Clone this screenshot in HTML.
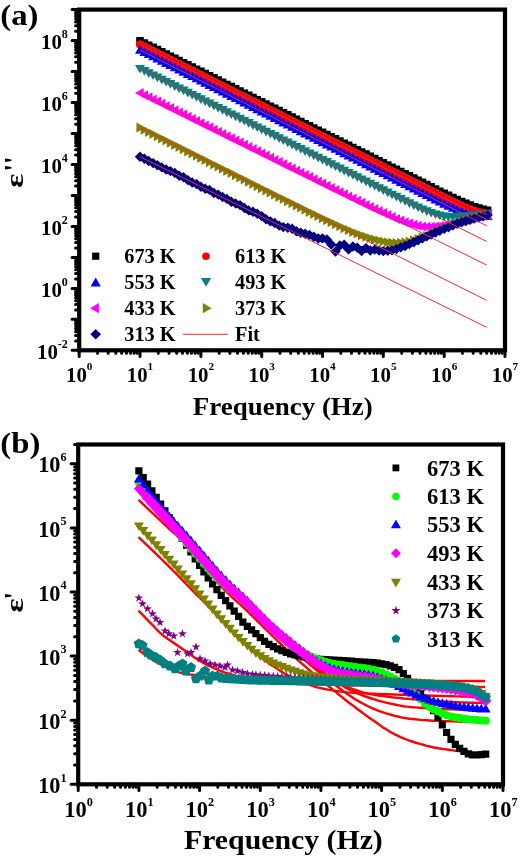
<!DOCTYPE html>
<html lang="en"><head><meta charset="utf-8"><title>Dielectric spectra</title>
<style>html,body{margin:0;padding:0;background:#fff}svg{display:block}</style></head>
<body>
<svg width="520" height="857" viewBox="0 0 520 857" font-family="'Liberation Serif', serif" font-weight="bold" fill="#000">
<rect width="520" height="857" fill="#fff"/>
<rect x="79.2" y="9.6" width="425.8" height="340.7" fill="#fff" stroke="#000" stroke-width="4.2"/>
<path d="M79.2 350.3v6.1M140 350.3v6.1M200.9 350.3v6.1M261.7 350.3v6.1M322.5 350.3v6.1M383.3 350.3v6.1M444.2 350.3v6.1M505 350.3v6.1M79.2 350.3h-7.1M79.2 319.3h-7.1M79.2 288.4h-7.1M79.2 257.4h-7.1M79.2 226.4h-7.1M79.2 195.4h-7.1M79.2 164.5h-7.1M79.2 133.5h-7.1M79.2 102.5h-7.1M79.2 71.5h-7.1M79.2 40.6h-7.1M79.2 9.6h-7.1" stroke="#000" stroke-width="3" stroke-linecap="round" fill="none"/>
<path d="M97.5 350.3v3M108.2 350.3v3M115.8 350.3v3M121.7 350.3v3M126.5 350.3v3M130.6 350.3v3M134.1 350.3v3M137.2 350.3v3M158.3 350.3v3M169.1 350.3v3M176.7 350.3v3M182.5 350.3v3M187.4 350.3v3M191.4 350.3v3M195 350.3v3M198.1 350.3v3M219.2 350.3v3M229.9 350.3v3M237.5 350.3v3M243.4 350.3v3M248.2 350.3v3M252.3 350.3v3M255.8 350.3v3M258.9 350.3v3M280 350.3v3M290.7 350.3v3M298.3 350.3v3M304.2 350.3v3M309 350.3v3M313.1 350.3v3M316.6 350.3v3M319.7 350.3v3M340.8 350.3v3M351.5 350.3v3M359.1 350.3v3M365 350.3v3M369.8 350.3v3M373.9 350.3v3M377.4 350.3v3M380.6 350.3v3M401.7 350.3v3M412.4 350.3v3M420 350.3v3M425.9 350.3v3M430.7 350.3v3M434.7 350.3v3M438.3 350.3v3M441.4 350.3v3M462.5 350.3v3M473.2 350.3v3M480.8 350.3v3M486.7 350.3v3M491.5 350.3v3M495.6 350.3v3M499.1 350.3v3M502.2 350.3v3M79.2 341h-3.6M79.2 335.5h-3.6M79.2 331.7h-3.6M79.2 328.7h-3.6M79.2 326.2h-3.6M79.2 324.1h-3.6M79.2 322.3h-3.6M79.2 320.7h-3.6M79.2 310h-3.6M79.2 304.5h-3.6M79.2 300.7h-3.6M79.2 297.7h-3.6M79.2 295.2h-3.6M79.2 293.2h-3.6M79.2 291.4h-3.6M79.2 289.8h-3.6M79.2 279h-3.6M79.2 273.6h-3.6M79.2 269.7h-3.6M79.2 266.7h-3.6M79.2 264.3h-3.6M79.2 262.2h-3.6M79.2 260.4h-3.6M79.2 258.8h-3.6M79.2 248.1h-3.6M79.2 242.6h-3.6M79.2 238.7h-3.6M79.2 235.7h-3.6M79.2 233.3h-3.6M79.2 231.2h-3.6M79.2 229.4h-3.6M79.2 227.8h-3.6M79.2 217.1h-3.6M79.2 211.6h-3.6M79.2 207.8h-3.6M79.2 204.8h-3.6M79.2 202.3h-3.6M79.2 200.2h-3.6M79.2 198.4h-3.6M79.2 196.9h-3.6M79.2 186.1h-3.6M79.2 180.7h-3.6M79.2 176.8h-3.6M79.2 173.8h-3.6M79.2 171.3h-3.6M79.2 169.3h-3.6M79.2 167.5h-3.6M79.2 165.9h-3.6M79.2 155.1h-3.6M79.2 149.7h-3.6M79.2 145.8h-3.6M79.2 142.8h-3.6M79.2 140.4h-3.6M79.2 138.3h-3.6M79.2 136.5h-3.6M79.2 134.9h-3.6M79.2 124.2h-3.6M79.2 118.7h-3.6M79.2 114.8h-3.6M79.2 111.8h-3.6M79.2 109.4h-3.6M79.2 107.3h-3.6M79.2 105.5h-3.6M79.2 103.9h-3.6M79.2 93.2h-3.6M79.2 87.7h-3.6M79.2 83.9h-3.6M79.2 80.9h-3.6M79.2 78.4h-3.6M79.2 76.3h-3.6M79.2 74.5h-3.6M79.2 73h-3.6M79.2 62.2h-3.6M79.2 56.8h-3.6M79.2 52.9h-3.6M79.2 49.9h-3.6M79.2 47.4h-3.6M79.2 45.4h-3.6M79.2 43.6h-3.6M79.2 42h-3.6M79.2 31.2h-3.6M79.2 25.8h-3.6M79.2 21.9h-3.6M79.2 18.9h-3.6M79.2 16.5h-3.6M79.2 14.4h-3.6M79.2 12.6h-3.6M79.2 11h-3.6" stroke="#000" stroke-width="3" stroke-linecap="round" fill="none"/>
<path d="M136.2 37.1h7.6v7.6h-7.6zM140.6 39.3h7.6v7.6h-7.6zM144.9 41.5h7.6v7.6h-7.6zM149.3 43.6h7.6v7.6h-7.6zM153.6 45.8h7.6v7.6h-7.6zM158 48h7.6v7.6h-7.6zM162.3 50.2h7.6v7.6h-7.6zM166.6 52.4h7.6v7.6h-7.6zM171 54.5h7.6v7.6h-7.6zM175.3 56.7h7.6v7.6h-7.6zM179.7 58.9h7.6v7.6h-7.6zM184 61.1h7.6v7.6h-7.6zM188.4 63.2h7.6v7.6h-7.6zM192.7 65.4h7.6v7.6h-7.6zM197.1 67.6h7.6v7.6h-7.6zM201.4 69.8h7.6v7.6h-7.6zM205.7 72h7.6v7.6h-7.6zM210.1 74.1h7.6v7.6h-7.6zM214.4 76.3h7.6v7.6h-7.6zM218.8 78.5h7.6v7.6h-7.6zM223.1 80.7h7.6v7.6h-7.6zM227.5 82.8h7.6v7.6h-7.6zM231.8 85h7.6v7.6h-7.6zM236.2 87.2h7.6v7.6h-7.6zM240.5 89.4h7.6v7.6h-7.6zM244.9 91.6h7.6v7.6h-7.6zM249.2 93.7h7.6v7.6h-7.6zM253.5 95.9h7.6v7.6h-7.6zM257.9 98.1h7.6v7.6h-7.6zM262.2 100.3h7.6v7.6h-7.6zM266.6 102.4h7.6v7.6h-7.6zM270.9 104.6h7.6v7.6h-7.6zM275.3 106.8h7.6v7.6h-7.6zM279.6 109h7.6v7.6h-7.6zM284 111.1h7.6v7.6h-7.6zM288.3 113.3h7.6v7.6h-7.6zM292.6 115.5h7.6v7.6h-7.6zM297 117.7h7.6v7.6h-7.6zM301.3 119.9h7.6v7.6h-7.6zM305.7 122h7.6v7.6h-7.6zM310 124.2h7.6v7.6h-7.6zM314.4 126.4h7.6v7.6h-7.6zM318.7 128.6h7.6v7.6h-7.6zM323.1 130.7h7.6v7.6h-7.6zM327.4 132.9h7.6v7.6h-7.6zM331.7 135.1h7.6v7.6h-7.6zM336.1 137.3h7.6v7.6h-7.6zM340.4 139.5h7.6v7.6h-7.6zM344.8 141.6h7.6v7.6h-7.6zM349.1 143.8h7.6v7.6h-7.6zM353.5 146h7.6v7.6h-7.6zM357.8 148.2h7.6v7.6h-7.6zM362.2 150.3h7.6v7.6h-7.6zM366.5 152.5h7.6v7.6h-7.6zM370.9 154.7h7.6v7.6h-7.6zM375.2 156.9h7.6v7.6h-7.6zM379.5 159.1h7.6v7.6h-7.6zM383.9 161.2h7.6v7.6h-7.6zM388.2 163.4h7.6v7.6h-7.6zM392.6 165.6h7.6v7.6h-7.6zM396.9 167.8h7.6v7.6h-7.6zM401.3 169.9h7.6v7.6h-7.6zM405.6 172.1h7.6v7.6h-7.6zM410 174.3h7.6v7.6h-7.6zM414.3 176.5h7.6v7.6h-7.6zM418.6 178.6h7.6v7.6h-7.6zM423 180.8h7.6v7.6h-7.6zM427.3 183h7.6v7.6h-7.6zM431.7 185.2h7.6v7.6h-7.6zM436 187.4h7.6v7.6h-7.6zM440.4 189.5h7.6v7.6h-7.6zM444.7 191.6h7.6v7.6h-7.6zM449.1 193.7h7.6v7.6h-7.6zM453.4 195.7h7.6v7.6h-7.6zM457.8 197.7h7.6v7.6h-7.6zM462.1 199.6h7.6v7.6h-7.6zM466.4 201.3h7.6v7.6h-7.6zM470.8 202.9h7.6v7.6h-7.6zM475.1 204.3h7.6v7.6h-7.6zM479.5 205.6h7.6v7.6h-7.6zM483.8 206.6h7.6v7.6h-7.6z" fill="#000000"/>
<path d="M135.9 44.5a4.1 4.1 0 1 0 8.2 0a4.1 4.1 0 1 0 -8.2 0zM140.3 46.7a4.1 4.1 0 1 0 8.2 0a4.1 4.1 0 1 0 -8.2 0zM144.6 48.9a4.1 4.1 0 1 0 8.2 0a4.1 4.1 0 1 0 -8.2 0zM149 51.1a4.1 4.1 0 1 0 8.2 0a4.1 4.1 0 1 0 -8.2 0zM153.3 53.3a4.1 4.1 0 1 0 8.2 0a4.1 4.1 0 1 0 -8.2 0zM157.7 55.5a4.1 4.1 0 1 0 8.2 0a4.1 4.1 0 1 0 -8.2 0zM162 57.7a4.1 4.1 0 1 0 8.2 0a4.1 4.1 0 1 0 -8.2 0zM166.3 59.9a4.1 4.1 0 1 0 8.2 0a4.1 4.1 0 1 0 -8.2 0zM170.7 62.1a4.1 4.1 0 1 0 8.2 0a4.1 4.1 0 1 0 -8.2 0zM175 64.3a4.1 4.1 0 1 0 8.2 0a4.1 4.1 0 1 0 -8.2 0zM179.4 66.5a4.1 4.1 0 1 0 8.2 0a4.1 4.1 0 1 0 -8.2 0zM183.7 68.6a4.1 4.1 0 1 0 8.2 0a4.1 4.1 0 1 0 -8.2 0zM188.1 70.8a4.1 4.1 0 1 0 8.2 0a4.1 4.1 0 1 0 -8.2 0zM192.4 73a4.1 4.1 0 1 0 8.2 0a4.1 4.1 0 1 0 -8.2 0zM196.8 75.2a4.1 4.1 0 1 0 8.2 0a4.1 4.1 0 1 0 -8.2 0zM201.1 77.4a4.1 4.1 0 1 0 8.2 0a4.1 4.1 0 1 0 -8.2 0zM205.4 79.6a4.1 4.1 0 1 0 8.2 0a4.1 4.1 0 1 0 -8.2 0zM209.8 81.8a4.1 4.1 0 1 0 8.2 0a4.1 4.1 0 1 0 -8.2 0zM214.1 84a4.1 4.1 0 1 0 8.2 0a4.1 4.1 0 1 0 -8.2 0zM218.5 86.2a4.1 4.1 0 1 0 8.2 0a4.1 4.1 0 1 0 -8.2 0zM222.8 88.4a4.1 4.1 0 1 0 8.2 0a4.1 4.1 0 1 0 -8.2 0zM227.2 90.6a4.1 4.1 0 1 0 8.2 0a4.1 4.1 0 1 0 -8.2 0zM231.5 92.8a4.1 4.1 0 1 0 8.2 0a4.1 4.1 0 1 0 -8.2 0zM235.9 95a4.1 4.1 0 1 0 8.2 0a4.1 4.1 0 1 0 -8.2 0zM240.2 97.2a4.1 4.1 0 1 0 8.2 0a4.1 4.1 0 1 0 -8.2 0zM244.6 99.4a4.1 4.1 0 1 0 8.2 0a4.1 4.1 0 1 0 -8.2 0zM248.9 101.6a4.1 4.1 0 1 0 8.2 0a4.1 4.1 0 1 0 -8.2 0zM253.2 103.7a4.1 4.1 0 1 0 8.2 0a4.1 4.1 0 1 0 -8.2 0zM257.6 105.9a4.1 4.1 0 1 0 8.2 0a4.1 4.1 0 1 0 -8.2 0zM261.9 108.1a4.1 4.1 0 1 0 8.2 0a4.1 4.1 0 1 0 -8.2 0zM266.3 110.3a4.1 4.1 0 1 0 8.2 0a4.1 4.1 0 1 0 -8.2 0zM270.6 112.5a4.1 4.1 0 1 0 8.2 0a4.1 4.1 0 1 0 -8.2 0zM275 114.7a4.1 4.1 0 1 0 8.2 0a4.1 4.1 0 1 0 -8.2 0zM279.3 116.9a4.1 4.1 0 1 0 8.2 0a4.1 4.1 0 1 0 -8.2 0zM283.7 119.1a4.1 4.1 0 1 0 8.2 0a4.1 4.1 0 1 0 -8.2 0zM288 121.3a4.1 4.1 0 1 0 8.2 0a4.1 4.1 0 1 0 -8.2 0zM292.3 123.5a4.1 4.1 0 1 0 8.2 0a4.1 4.1 0 1 0 -8.2 0zM296.7 125.7a4.1 4.1 0 1 0 8.2 0a4.1 4.1 0 1 0 -8.2 0zM301 127.9a4.1 4.1 0 1 0 8.2 0a4.1 4.1 0 1 0 -8.2 0zM305.4 130.1a4.1 4.1 0 1 0 8.2 0a4.1 4.1 0 1 0 -8.2 0zM309.7 132.3a4.1 4.1 0 1 0 8.2 0a4.1 4.1 0 1 0 -8.2 0zM314.1 134.5a4.1 4.1 0 1 0 8.2 0a4.1 4.1 0 1 0 -8.2 0zM318.4 136.7a4.1 4.1 0 1 0 8.2 0a4.1 4.1 0 1 0 -8.2 0zM322.8 138.8a4.1 4.1 0 1 0 8.2 0a4.1 4.1 0 1 0 -8.2 0zM327.1 141a4.1 4.1 0 1 0 8.2 0a4.1 4.1 0 1 0 -8.2 0zM331.4 143.2a4.1 4.1 0 1 0 8.2 0a4.1 4.1 0 1 0 -8.2 0zM335.8 145.4a4.1 4.1 0 1 0 8.2 0a4.1 4.1 0 1 0 -8.2 0zM340.1 147.6a4.1 4.1 0 1 0 8.2 0a4.1 4.1 0 1 0 -8.2 0zM344.5 149.8a4.1 4.1 0 1 0 8.2 0a4.1 4.1 0 1 0 -8.2 0zM348.8 152a4.1 4.1 0 1 0 8.2 0a4.1 4.1 0 1 0 -8.2 0zM353.2 154.2a4.1 4.1 0 1 0 8.2 0a4.1 4.1 0 1 0 -8.2 0zM357.5 156.4a4.1 4.1 0 1 0 8.2 0a4.1 4.1 0 1 0 -8.2 0zM361.9 158.6a4.1 4.1 0 1 0 8.2 0a4.1 4.1 0 1 0 -8.2 0zM366.2 160.8a4.1 4.1 0 1 0 8.2 0a4.1 4.1 0 1 0 -8.2 0zM370.6 163a4.1 4.1 0 1 0 8.2 0a4.1 4.1 0 1 0 -8.2 0zM374.9 165.2a4.1 4.1 0 1 0 8.2 0a4.1 4.1 0 1 0 -8.2 0zM379.2 167.4a4.1 4.1 0 1 0 8.2 0a4.1 4.1 0 1 0 -8.2 0zM383.6 169.6a4.1 4.1 0 1 0 8.2 0a4.1 4.1 0 1 0 -8.2 0zM387.9 171.8a4.1 4.1 0 1 0 8.2 0a4.1 4.1 0 1 0 -8.2 0zM392.3 173.9a4.1 4.1 0 1 0 8.2 0a4.1 4.1 0 1 0 -8.2 0zM396.6 176.1a4.1 4.1 0 1 0 8.2 0a4.1 4.1 0 1 0 -8.2 0zM401 178.3a4.1 4.1 0 1 0 8.2 0a4.1 4.1 0 1 0 -8.2 0zM405.3 180.5a4.1 4.1 0 1 0 8.2 0a4.1 4.1 0 1 0 -8.2 0zM409.7 182.7a4.1 4.1 0 1 0 8.2 0a4.1 4.1 0 1 0 -8.2 0zM414 184.9a4.1 4.1 0 1 0 8.2 0a4.1 4.1 0 1 0 -8.2 0zM418.3 187.1a4.1 4.1 0 1 0 8.2 0a4.1 4.1 0 1 0 -8.2 0zM422.7 189.3a4.1 4.1 0 1 0 8.2 0a4.1 4.1 0 1 0 -8.2 0zM427 191.5a4.1 4.1 0 1 0 8.2 0a4.1 4.1 0 1 0 -8.2 0zM431.4 193.7a4.1 4.1 0 1 0 8.2 0a4.1 4.1 0 1 0 -8.2 0zM435.7 195.9a4.1 4.1 0 1 0 8.2 0a4.1 4.1 0 1 0 -8.2 0zM440.1 198a4.1 4.1 0 1 0 8.2 0a4.1 4.1 0 1 0 -8.2 0zM444.4 200.1a4.1 4.1 0 1 0 8.2 0a4.1 4.1 0 1 0 -8.2 0zM448.8 202.2a4.1 4.1 0 1 0 8.2 0a4.1 4.1 0 1 0 -8.2 0zM453.1 204.2a4.1 4.1 0 1 0 8.2 0a4.1 4.1 0 1 0 -8.2 0zM457.5 206.1a4.1 4.1 0 1 0 8.2 0a4.1 4.1 0 1 0 -8.2 0zM461.8 207.8a4.1 4.1 0 1 0 8.2 0a4.1 4.1 0 1 0 -8.2 0zM466.1 209.4a4.1 4.1 0 1 0 8.2 0a4.1 4.1 0 1 0 -8.2 0zM470.5 210.8a4.1 4.1 0 1 0 8.2 0a4.1 4.1 0 1 0 -8.2 0zM474.8 212a4.1 4.1 0 1 0 8.2 0a4.1 4.1 0 1 0 -8.2 0zM479.2 213a4.1 4.1 0 1 0 8.2 0a4.1 4.1 0 1 0 -8.2 0zM483.5 213.7a4.1 4.1 0 1 0 8.2 0a4.1 4.1 0 1 0 -8.2 0z" fill="#ff0000"/>
<path d="M140 45L145 53.7L135 53.7zM144.4 47.2L149.4 55.9L139.4 55.9zM148.7 49.4L153.7 58.1L143.7 58.1zM153.1 51.6L158.1 60.3L148.1 60.3zM157.4 53.8L162.4 62.5L152.4 62.5zM161.8 56L166.8 64.7L156.8 64.7zM166.1 58.2L171.1 66.9L161.1 66.9zM170.4 60.4L175.4 69.1L165.4 69.1zM174.8 62.6L179.8 71.3L169.8 71.3zM179.1 64.8L184.1 73.5L174.1 73.5zM183.5 67L188.5 75.7L178.5 75.7zM187.8 69.2L192.8 77.9L182.8 77.9zM192.2 71.4L197.2 80.1L187.2 80.1zM196.5 73.6L201.5 82.3L191.5 82.3zM200.9 75.8L205.9 84.5L195.9 84.5zM205.2 78L210.2 86.7L200.2 86.7zM209.5 80.3L214.5 88.9L204.5 88.9zM213.9 82.5L218.9 91.1L208.9 91.1zM218.2 84.7L223.2 93.3L213.2 93.3zM222.6 86.9L227.6 95.5L217.6 95.5zM226.9 89.1L231.9 97.7L221.9 97.7zM231.3 91.3L236.3 99.9L226.3 99.9zM235.6 93.5L240.6 102.1L230.6 102.1zM240 95.7L245 104.3L235 104.3zM244.3 97.9L249.3 106.5L239.3 106.5zM248.7 100.1L253.7 108.7L243.7 108.7zM253 102.3L258 111L248 111zM257.3 104.5L262.3 113.2L252.3 113.2zM261.7 106.7L266.7 115.4L256.7 115.4zM266 108.9L271 117.6L261 117.6zM270.4 111.1L275.4 119.8L265.4 119.8zM274.7 113.3L279.7 122L269.7 122zM279.1 115.5L284.1 124.2L274.1 124.2zM283.4 117.7L288.4 126.4L278.4 126.4zM287.8 119.9L292.8 128.6L282.8 128.6zM292.1 122.1L297.1 130.8L287.1 130.8zM296.4 124.3L301.4 133L291.4 133zM300.8 126.5L305.8 135.2L295.8 135.2zM305.1 128.7L310.1 137.4L300.1 137.4zM309.5 130.9L314.5 139.6L304.5 139.6zM313.8 133.1L318.8 141.8L308.8 141.8zM318.2 135.3L323.2 144L313.2 144zM322.5 137.6L327.5 146.2L317.5 146.2zM326.9 139.8L331.9 148.4L321.9 148.4zM331.2 142L336.2 150.6L326.2 150.6zM335.5 144.2L340.5 152.8L330.5 152.8zM339.9 146.4L344.9 155L334.9 155zM344.2 148.6L349.2 157.2L339.2 157.2zM348.6 150.8L353.6 159.4L343.6 159.4zM352.9 153L357.9 161.6L347.9 161.6zM357.3 155.2L362.3 163.8L352.3 163.8zM361.6 157.4L366.6 166L356.6 166zM366 159.6L371 168.2L361 168.2zM370.3 161.8L375.3 170.5L365.3 170.5zM374.7 164L379.7 172.7L369.7 172.7zM379 166.2L384 174.9L374 174.9zM383.3 168.4L388.3 177.1L378.3 177.1zM387.7 170.6L392.7 179.3L382.7 179.3zM392 172.8L397 181.5L387 181.5zM396.4 175L401.4 183.7L391.4 183.7zM400.7 177.2L405.7 185.9L395.7 185.9zM405.1 179.4L410.1 188.1L400.1 188.1zM409.4 181.6L414.4 190.3L404.4 190.3zM413.8 183.8L418.8 192.5L408.8 192.5zM418.1 186L423.1 194.7L413.1 194.7zM422.4 188.2L427.4 196.9L417.4 196.9zM426.8 190.4L431.8 199.1L421.8 199.1zM431.1 192.6L436.1 201.3L426.1 201.3zM435.5 194.8L440.5 203.5L430.5 203.5zM439.8 197L444.8 205.6L434.8 205.6zM444.2 199.1L449.2 207.7L439.2 207.7zM448.5 201.1L453.5 209.8L443.5 209.8zM452.9 203L457.9 211.7L447.9 211.7zM457.2 204.9L462.2 213.5L452.2 213.5zM461.6 206.5L466.6 215.2L456.6 215.2zM465.9 208L470.9 216.6L460.9 216.6zM470.2 209.2L475.2 217.9L465.2 217.9zM474.6 210.1L479.6 218.8L469.6 218.8zM478.9 210.8L483.9 219.5L473.9 219.5zM483.3 211.2L488.3 219.8L478.3 219.8zM487.6 211.4L492.6 220L482.6 220z" fill="#0000ff"/>
<path d="M140 73.5L145 64.9L135 64.9zM144.4 75.7L149.4 67L139.4 67zM148.7 77.9L153.7 69.2L143.7 69.2zM153.1 80L158.1 71.4L148.1 71.4zM157.4 82.2L162.4 73.6L152.4 73.6zM161.8 84.4L166.8 75.7L156.8 75.7zM166.1 86.5L171.1 77.9L161.1 77.9zM170.4 88.7L175.4 80.1L165.4 80.1zM174.8 90.9L179.8 82.2L169.8 82.2zM179.1 93.1L184.1 84.4L174.1 84.4zM183.5 95.2L188.5 86.6L178.5 86.6zM187.8 97.4L192.8 88.7L182.8 88.7zM192.2 99.6L197.2 90.9L187.2 90.9zM196.5 101.7L201.5 93.1L191.5 93.1zM200.9 103.9L205.9 95.2L195.9 95.2zM205.2 106.1L210.2 97.4L200.2 97.4zM209.5 108.2L214.5 99.6L204.5 99.6zM213.9 110.4L218.9 101.7L208.9 101.7zM218.2 112.6L223.2 103.9L213.2 103.9zM222.6 114.7L227.6 106.1L217.6 106.1zM226.9 116.9L231.9 108.3L221.9 108.3zM231.3 119.1L236.3 110.4L226.3 110.4zM235.6 121.2L240.6 112.6L230.6 112.6zM240 123.4L245 114.8L235 114.8zM244.3 125.6L249.3 116.9L239.3 116.9zM248.7 127.8L253.7 119.1L243.7 119.1zM253 129.9L258 121.3L248 121.3zM257.3 132.1L262.3 123.4L252.3 123.4zM261.7 134.3L266.7 125.6L256.7 125.6zM266 136.4L271 127.8L261 127.8zM270.4 138.6L275.4 129.9L265.4 129.9zM274.7 140.8L279.7 132.1L269.7 132.1zM279.1 142.9L284.1 134.3L274.1 134.3zM283.4 145.1L288.4 136.4L278.4 136.4zM287.8 147.3L292.8 138.6L282.8 138.6zM292.1 149.4L297.1 140.8L287.1 140.8zM296.4 151.6L301.4 142.9L291.4 142.9zM300.8 153.8L305.8 145.1L295.8 145.1zM305.1 155.9L310.1 147.3L300.1 147.3zM309.5 158.1L314.5 149.5L304.5 149.5zM313.8 160.3L318.8 151.6L308.8 151.6zM318.2 162.5L323.2 153.8L313.2 153.8zM322.5 164.6L327.5 156L317.5 156zM326.9 166.8L331.9 158.1L321.9 158.1zM331.2 169L336.2 160.3L326.2 160.3zM335.5 171.1L340.5 162.5L330.5 162.5zM339.9 173.3L344.9 164.6L334.9 164.6zM344.2 175.5L349.2 166.8L339.2 166.8zM348.6 177.6L353.6 169L343.6 169zM352.9 179.8L357.9 171.1L347.9 171.1zM357.3 182L362.3 173.3L352.3 173.3zM361.6 184.1L366.6 175.5L356.6 175.5zM366 186.3L371 177.6L361 177.6zM370.3 188.5L375.3 179.8L365.3 179.8zM374.7 190.6L379.7 182L369.7 182zM379 192.8L384 184.2L374 184.2zM383.3 195L388.3 186.3L378.3 186.3zM387.7 197.2L392.7 188.5L382.7 188.5zM392 199.3L397 190.7L387 190.7zM396.4 201.5L401.4 192.8L391.4 192.8zM400.7 203.7L405.7 195L395.7 195zM405.1 205.8L410.1 197.2L400.1 197.2zM409.4 207.9L414.4 199.3L404.4 199.3zM413.8 210L418.8 201.4L408.8 201.4zM418.1 212.1L423.1 203.4L413.1 203.4zM422.4 214L427.4 205.4L417.4 205.4zM426.8 215.9L431.8 207.2L421.8 207.2zM431.1 217.6L436.1 208.9L426.1 208.9zM435.5 219.1L440.5 210.4L430.5 210.4zM439.8 220.3L444.8 211.6L434.8 211.6zM444.2 221.2L449.2 212.5L439.2 212.5zM448.5 221.7L453.5 213L443.5 213zM452.9 221.7L457.9 213.1L447.9 213.1zM457.2 221.5L462.2 212.8L452.2 212.8zM461.6 221L466.6 212.3L456.6 212.3zM465.9 220.8L470.9 212.2L460.9 212.2zM470.2 220.5L475.2 211.9L465.2 211.9zM474.6 220.1L479.6 211.5L469.6 211.5zM478.9 219.6L483.9 211L473.9 211zM483.3 219.1L488.3 210.4L478.3 210.4zM487.6 218.5L492.6 209.9L482.6 209.9z" fill="#008080"/>
<path d="M135 93L143.7 88L143.7 98zM139.4 95.2L148 90.2L148 100.2zM143.7 97.3L152.4 92.3L152.4 102.3zM148 99.5L156.7 94.5L156.7 104.5zM152.4 101.6L161 96.6L161 106.6zM156.7 103.8L165.4 98.8L165.4 108.8zM161.1 106L169.7 101L169.7 111zM165.4 108.1L174.1 103.1L174.1 113.1zM169.8 110.3L178.4 105.3L178.4 115.3zM174.1 112.4L182.8 107.4L182.8 117.4zM178.5 114.6L187.1 109.6L187.1 119.6zM182.8 116.7L191.5 111.7L191.5 121.7zM187.1 118.9L195.8 113.9L195.8 123.9zM191.5 121.1L200.1 116.1L200.1 126.1zM195.8 123.2L204.5 118.2L204.5 128.2zM200.2 125.4L208.8 120.4L208.8 130.4zM204.5 127.5L213.2 122.5L213.2 132.5zM208.9 129.7L217.5 124.7L217.5 134.7zM213.2 131.8L221.9 126.8L221.9 136.8zM217.6 134L226.2 129L226.2 139zM221.9 136.2L230.6 131.2L230.6 141.2zM226.2 138.3L234.9 133.3L234.9 143.3zM230.6 140.5L239.3 135.5L239.3 145.5zM234.9 142.6L243.6 137.6L243.6 147.6zM239.3 144.8L247.9 139.8L247.9 149.8zM243.6 146.9L252.3 141.9L252.3 151.9zM248 149.1L256.6 144.1L256.6 154.1zM252.3 151.3L261 146.3L261 156.3zM256.7 153.4L265.3 148.4L265.3 158.4zM261 155.6L269.7 150.6L269.7 160.6zM265.4 157.7L274 152.7L274 162.7zM269.7 159.9L278.4 154.9L278.4 164.9zM274 162L282.7 157L282.7 167zM278.4 164.2L287 159.2L287 169.2zM282.7 166.4L291.4 161.4L291.4 171.4zM287.1 168.5L295.7 163.5L295.7 173.5zM291.4 170.7L300.1 165.7L300.1 175.7zM295.8 172.8L304.4 167.8L304.4 177.8zM300.1 175L308.8 170L308.8 180zM304.5 177.1L313.1 172.1L313.1 182.1zM308.8 179.3L317.5 174.3L317.5 184.3zM313.1 181.4L321.8 176.4L321.8 186.4zM317.5 183.6L326.2 178.6L326.2 188.6zM321.8 185.8L330.5 180.8L330.5 190.8zM326.2 187.9L334.8 182.9L334.8 192.9zM330.5 190L339.2 185L339.2 195zM334.9 192.2L343.5 187.2L343.5 197.2zM339.2 194.3L347.9 189.3L347.9 199.3zM343.6 196.5L352.2 191.5L352.2 201.5zM347.9 198.6L356.6 193.6L356.6 203.6zM352.3 200.7L360.9 195.7L360.9 205.7zM356.6 202.8L365.3 197.8L365.3 207.8zM360.9 204.9L369.6 199.9L369.6 209.9zM365.3 207L373.9 202L373.9 212zM369.6 209.1L378.3 204.1L378.3 214.1zM374 211.1L382.6 206.1L382.6 216.1zM378.3 213.1L387 208.1L387 218.1zM382.7 215.1L391.3 210.1L391.3 220.1zM387 217L395.7 212L395.7 222zM391.4 218.9L400 213.9L400 223.9zM395.7 220.6L404.4 215.6L404.4 225.6zM400 222.2L408.7 217.2L408.7 227.2zM404.4 223.6L413 218.6L413 228.6zM408.7 224.8L417.4 219.8L417.4 229.8zM413.1 225.8L421.7 220.8L421.7 230.8zM417.4 226.5L426.1 221.5L426.1 231.5zM421.8 226.8L430.4 221.8L430.4 231.8zM426.1 226.8L434.8 221.8L434.8 231.8zM430.5 226.5L439.1 221.5L439.1 231.5zM434.8 226L443.5 221L443.5 231zM439.1 225.2L447.8 220.2L447.8 230.2zM443.5 224.3L452.2 219.3L452.2 229.3zM447.8 223.2L456.5 218.2L456.5 228.2zM452.2 222.1L460.8 217.1L460.8 227.1zM456.5 221L465.2 216L465.2 226zM460.9 219.9L469.5 214.9L469.5 224.9zM465.2 218.9L473.9 213.9L473.9 223.9zM469.6 217.8L478.2 212.8L478.2 222.8zM473.9 216.8L482.6 211.8L482.6 221.8zM478.3 215.8L486.9 210.8L486.9 220.8zM482.6 214.9L491.3 209.9L491.3 219.9z" fill="#ff00ff"/>
<path d="M145.1 127.6L136.4 122.6L136.4 132.6zM149.4 129.8L140.7 124.8L140.7 134.8zM153.7 131.9L145.1 126.9L145.1 136.9zM158.1 134.1L149.4 129.1L149.4 139.1zM162.4 136.3L153.8 131.3L153.8 141.3zM166.8 138.4L158.1 133.4L158.1 143.4zM171.1 140.6L162.5 135.6L162.5 145.6zM175.5 142.8L166.8 137.8L166.8 147.8zM179.8 144.9L171.2 139.9L171.2 149.9zM184.2 147.1L175.5 142.1L175.5 152.1zM188.5 149.3L179.8 144.3L179.8 154.3zM192.8 151.4L184.2 146.4L184.2 156.4zM197.2 153.6L188.5 148.6L188.5 158.6zM201.5 155.8L192.9 150.8L192.9 160.8zM205.9 157.9L197.2 152.9L197.2 162.9zM210.2 160.1L201.6 155.1L201.6 165.1zM214.6 162.3L205.9 157.3L205.9 167.3zM218.9 164.4L210.3 159.4L210.3 169.4zM223.3 166.6L214.6 161.6L214.6 171.6zM227.6 168.7L218.9 163.7L218.9 173.7zM231.9 170.9L223.3 165.9L223.3 175.9zM236.3 173.1L227.6 168.1L227.6 178.1zM240.6 175.2L232 170.2L232 180.2zM245 177.4L236.3 172.4L236.3 182.4zM249.3 179.6L240.7 174.6L240.7 184.6zM253.7 181.7L245 176.7L245 186.7zM258 183.9L249.4 178.9L249.4 188.9zM262.4 186.1L253.7 181.1L253.7 191.1zM266.7 188.2L258 183.2L258 193.2zM271.1 190.4L262.4 185.4L262.4 195.4zM275.4 192.6L266.7 187.6L266.7 197.6zM279.7 194.7L271.1 189.7L271.1 199.7zM284.1 196.9L275.4 191.9L275.4 201.9zM288.4 199L279.8 194L279.8 204zM292.8 201.2L284.1 196.2L284.1 206.2zM297.1 203.3L288.5 198.3L288.5 208.3zM301.5 205.5L292.8 200.5L292.8 210.5zM305.8 207.6L297.2 202.6L297.2 212.6zM310.2 209.8L301.5 204.8L301.5 214.8zM314.5 211.9L305.8 206.9L305.8 216.9zM318.8 214L310.2 209L310.2 219zM323.2 216.1L314.5 211.1L314.5 221.1zM327.5 218.2L318.9 213.2L318.9 223.2zM331.9 220.3L323.2 215.3L323.2 225.3zM336.2 222.3L327.6 217.3L327.6 227.3zM340.6 224.3L331.9 219.3L331.9 229.3zM344.9 226.3L336.3 221.3L336.3 231.3zM349.3 228.2L340.6 223.2L340.6 233.2zM353.6 230.1L344.9 225.1L344.9 235.1zM358 231.9L349.3 226.9L349.3 236.9zM362.3 233.6L353.6 228.6L353.6 238.6zM366.6 235.3L358 230.3L358 240.3zM371 236.8L362.3 231.8L362.3 241.8zM375.3 238.3L366.7 233.3L366.7 243.3zM379.7 239.5L371 234.5L371 244.5zM384 240.6L375.4 235.6L375.4 245.6zM388.4 241.5L379.7 236.5L379.7 246.5zM392.7 242.2L384.1 237.2L384.1 247.2zM397.1 242.7L388.4 237.7L388.4 247.7zM401.4 242.9L392.7 237.9L392.7 247.9zM405.7 242.8L397.1 237.8L397.1 247.8zM410.1 242.3L401.4 237.3L401.4 247.3zM414.4 241.5L405.8 236.5L405.8 246.5zM418.8 240.3L410.1 235.3L410.1 245.3zM423.1 239L414.5 234L414.5 244zM427.5 237.5L418.8 232.5L418.8 242.5zM431.8 235.8L423.2 230.8L423.2 240.8zM436.2 234.1L427.5 229.1L427.5 239.1zM440.5 232.3L431.8 227.3L431.8 237.3zM444.8 230.5L436.2 225.5L436.2 235.5zM449.2 228.7L440.5 223.7L440.5 233.7zM453.5 227L444.9 222L444.9 232zM457.9 225.3L449.2 220.3L449.2 230.3zM462.2 223.7L453.6 218.7L453.6 228.7zM466.6 222.3L457.9 217.3L457.9 227.3zM470.9 220.9L462.3 215.9L462.3 225.9zM475.3 219.6L466.6 214.6L466.6 224.6zM479.6 218.4L470.9 213.4L470.9 223.4zM484 217.3L475.3 212.3L475.3 222.3zM488.3 216.2L479.6 211.2L479.6 221.2zM492.6 215.2L484 210.2L484 220.2z" fill="#808000"/>
<path d="M140 151.5L145.2 156.7L140 161.9L134.8 156.7zM144.4 153.6L149.6 158.8L144.4 164L139.2 158.8zM148.7 155.8L153.9 161L148.7 166.2L143.5 161zM153.1 157.9L158.3 163.1L153.1 168.3L147.9 163.1zM157.4 160L162.6 165.2L157.4 170.4L152.2 165.2zM161.8 162.2L167 167.4L161.8 172.6L156.6 167.4zM166.1 164.3L171.3 169.5L166.1 174.7L160.9 169.5zM170.4 165.9L175.6 171.1L170.4 176.3L165.2 171.1zM174.8 167.7L180 172.9L174.8 178.1L169.6 172.9zM179.1 170.6L184.3 175.8L179.1 181L173.9 175.8zM183.5 172L188.7 177.2L183.5 182.4L178.3 177.2zM187.8 174.9L193 180.1L187.8 185.3L182.6 180.1zM192.2 177.3L197.4 182.5L192.2 187.7L187 182.5zM196.5 178.8L201.7 184L196.5 189.2L191.3 184zM200.9 181.6L206.1 186.8L200.9 192L195.7 186.8zM205.2 183.6L210.4 188.8L205.2 194L200 188.8zM209.5 184.7L214.7 189.9L209.5 195.1L204.3 189.9zM213.9 187.8L219.1 193L213.9 198.2L208.7 193zM218.2 189.4L223.4 194.6L218.2 199.8L213 194.6zM222.6 191.8L227.8 197L222.6 202.2L217.4 197zM226.9 193.7L232.1 198.9L226.9 204.1L221.7 198.9zM231.3 196.6L236.5 201.8L231.3 207L226.1 201.8zM235.6 198.2L240.8 203.4L235.6 208.6L230.4 203.4zM240 199.9L245.2 205.1L240 210.3L234.8 205.1zM244.3 202.7L249.5 207.9L244.3 213.1L239.1 207.9zM248.7 205.2L253.9 210.4L248.7 215.6L243.5 210.4zM253 206.5L258.2 211.7L253 216.9L247.8 211.7zM257.3 208.5L262.5 213.7L257.3 218.9L252.1 213.7zM261.7 210.9L266.9 216.1L261.7 221.3L256.5 216.1zM266 214L271.2 219.2L266 224.4L260.8 219.2zM270.4 216.2L275.6 221.4L270.4 226.6L265.2 221.4zM274.7 217.8L279.9 223L274.7 228.2L269.5 223zM279.1 220.4L284.3 225.6L279.1 230.8L273.9 225.6zM283.4 221.9L288.6 227.1L283.4 232.3L278.2 227.1zM287.8 222.6L293 227.8L287.8 233L282.6 227.8zM292.1 223.6L297.3 228.8L292.1 234L286.9 228.8zM296.4 226.1L301.6 231.3L296.4 236.5L291.2 231.3zM300.8 227.5L306 232.7L300.8 237.9L295.6 232.7zM305.1 228.5L310.3 233.7L305.1 238.9L299.9 233.7zM309.5 229.7L314.7 234.9L309.5 240.1L304.3 234.9zM313.8 231.6L319 236.8L313.8 242L308.6 236.8zM318.2 233.3L323.4 238.5L318.2 243.7L313 238.5zM322.5 233.2L327.7 238.4L322.5 243.6L317.3 238.4zM326.9 234.2L332.1 239.4L326.9 244.6L321.7 239.4zM331.2 239.3L336.4 244.5L331.2 249.7L326 244.5zM335.5 246.4L340.7 251.6L335.5 256.8L330.3 251.6zM339.9 240.3L345.1 245.5L339.9 250.7L334.7 245.5zM344.2 239.5L349.4 244.7L344.2 249.9L339 244.7zM348.6 244.2L353.8 249.4L348.6 254.6L343.4 249.4zM352.9 241.3L358.1 246.5L352.9 251.7L347.7 246.5zM357.3 242.5L362.5 247.7L357.3 252.9L352.1 247.7zM361.6 245.8L366.8 251L361.6 256.2L356.4 251zM366 242.9L371.2 248.1L366 253.3L360.8 248.1zM370.3 245.3L375.5 250.5L370.3 255.7L365.1 250.5zM374.7 244.4L379.9 249.6L374.7 254.8L369.5 249.6zM379 245.3L384.2 250.5L379 255.7L373.8 250.5zM383.3 245.9L388.5 251.1L383.3 256.3L378.1 251.1zM387.7 245.6L392.9 250.8L387.7 256L382.5 250.8zM392 245.2L397.2 250.4L392 255.6L386.8 250.4zM396.4 243.9L401.6 249.1L396.4 254.3L391.2 249.1zM400.7 242.2L405.9 247.4L400.7 252.6L395.5 247.4zM405.1 240.8L410.3 246L405.1 251.2L399.9 246zM409.4 238.9L414.6 244.1L409.4 249.3L404.2 244.1zM413.8 237L419 242.2L413.8 247.4L408.6 242.2zM418.1 235.1L423.3 240.3L418.1 245.5L412.9 240.3zM422.4 233.2L427.6 238.4L422.4 243.6L417.2 238.4zM426.8 231.2L432 236.4L426.8 241.6L421.6 236.4zM431.1 229.3L436.3 234.5L431.1 239.7L425.9 234.5zM435.5 227.3L440.7 232.5L435.5 237.7L430.3 232.5zM439.8 225.5L445 230.7L439.8 235.9L434.6 230.7zM444.2 223.7L449.4 228.9L444.2 234.1L439 228.9zM448.5 222L453.7 227.2L448.5 232.4L443.3 227.2zM452.9 220.2L458.1 225.4L452.9 230.6L447.7 225.4zM457.2 218.5L462.4 223.7L457.2 228.9L452 223.7zM461.6 217.1L466.8 222.3L461.6 227.5L456.4 222.3zM465.9 215.8L471.1 221L465.9 226.2L460.7 221zM470.2 214.5L475.4 219.7L470.2 224.9L465 219.7zM474.6 213.2L479.8 218.4L474.6 223.6L469.4 218.4zM478.9 212L484.1 217.2L478.9 222.4L473.7 217.2zM483.3 211L488.5 216.2L483.3 221.4L478.1 216.2zM487.6 209.9L492.8 215.1L487.6 220.3L482.4 215.1z" fill="#000080"/>
<path d="M140 40.9L486.6 214.6M140 44.5L486.6 219.5M140 50L486.6 225.8M140 68.5L486.6 241.5M140 93L486.6 265.1M140 127.6L486.6 300.3M140 156.7L486.6 327.3" stroke="#ee2a35" stroke-width="1" fill="none"/>
<path d="M92.1 252.6h7.2v7.2h-7.2z" fill="#000000"/>
<path d="M202.2 256.2a3.8 3.8 0 1 0 7.6 0a3.8 3.8 0 1 0 -7.6 0z" fill="#ff0000"/>
<path d="M95.7 277.6L100.8 286.4L90.6 286.4z" fill="#0000ff"/>
<path d="M206 286.8L211.1 278L200.9 278z" fill="#008080"/>
<path d="M90.1 308.2L98.9 303.1L98.9 313.3z" fill="#ff00ff"/>
<path d="M211.6 308.2L202.8 303.1L202.8 313.3z" fill="#808000"/>
<path d="M95.7 328.9L101 334.2L95.7 339.5L90.4 334.2z" fill="#000080"/>
<path d="M183 334.2H228" stroke="#ee2a35" stroke-width="1.1"/>
<g font-size="20.3">
<text x="124.3" y="263.3">673 K</text>
<text x="124.3" y="289.3">553 K</text>
<text x="124.3" y="315.3">433 K</text>
<text x="124.3" y="341.3">313 K</text>
<text x="235" y="263.3">613 K</text>
<text x="235" y="289.3">493 K</text>
<text x="235" y="315.3">373 K</text>
<text x="235" y="341.3">Fit</text>
</g>
<text x="67.8" y="49.1" text-anchor="end" font-size="20.8">10<tspan dy="-11.0" font-size="12">8</tspan></text>
<text x="67.8" y="111" text-anchor="end" font-size="20.8">10<tspan dy="-11.0" font-size="12">6</tspan></text>
<text x="67.8" y="173" text-anchor="end" font-size="20.8">10<tspan dy="-11.0" font-size="12">4</tspan></text>
<text x="67.8" y="234.9" text-anchor="end" font-size="20.8">10<tspan dy="-11.0" font-size="12">2</tspan></text>
<text x="67.8" y="296.9" text-anchor="end" font-size="20.8">10<tspan dy="-11.0" font-size="12">0</tspan></text>
<text x="67.8" y="358.8" text-anchor="end" font-size="20.8">10<tspan dy="-11.0" font-size="12">-2</tspan></text>
<text x="79.2" y="381.7" text-anchor="middle" font-size="20.8">10<tspan dy="-11.9" font-size="11.2">0</tspan></text>
<text x="140" y="381.7" text-anchor="middle" font-size="20.8">10<tspan dy="-11.9" font-size="11.2">1</tspan></text>
<text x="200.9" y="381.7" text-anchor="middle" font-size="20.8">10<tspan dy="-11.9" font-size="11.2">2</tspan></text>
<text x="261.7" y="381.7" text-anchor="middle" font-size="20.8">10<tspan dy="-11.9" font-size="11.2">3</tspan></text>
<text x="322.5" y="381.7" text-anchor="middle" font-size="20.8">10<tspan dy="-11.9" font-size="11.2">4</tspan></text>
<text x="383.3" y="381.7" text-anchor="middle" font-size="20.8">10<tspan dy="-11.9" font-size="11.2">5</tspan></text>
<text x="444.2" y="381.7" text-anchor="middle" font-size="20.8">10<tspan dy="-11.9" font-size="11.2">6</tspan></text>
<text x="505" y="381.7" text-anchor="middle" font-size="20.8">10<tspan dy="-11.9" font-size="11.2">7</tspan></text>
<text x="192.8" y="414.5" font-size="25.6" textLength="180" lengthAdjust="spacingAndGlyphs">Frequency (Hz)</text>
<text transform="translate(0.3 24.6) scale(1.13 1)" font-size="29">(a)</text>
<text transform="translate(23.3 188) rotate(-90) scale(1.38 1)" font-size="24.5">ε</text>
<text transform="translate(23.3 171.6) rotate(-90)" font-size="27">''</text>
<rect x="78.2" y="444.5" width="424.8" height="339.8" fill="#fff" stroke="#000" stroke-width="4.2"/>
<path d="M78.2 784.3v6.1M138.9 784.3v6.1M199.6 784.3v6.1M260.3 784.3v6.1M320.9 784.3v6.1M381.6 784.3v6.1M442.3 784.3v6.1M503 784.3v6.1M78.2 784.3h-7.1M78.2 720.2h-7.1M78.2 656.1h-7.1M78.2 592h-7.1M78.2 527.9h-7.1M78.2 463.8h-7.1" stroke="#000" stroke-width="3" stroke-linecap="round" fill="none"/>
<path d="M96.5 784.3v3M107.2 784.3v3M114.7 784.3v3M120.6 784.3v3M125.4 784.3v3M129.5 784.3v3M133 784.3v3M136.1 784.3v3M157.2 784.3v3M167.8 784.3v3M175.4 784.3v3M181.3 784.3v3M186.1 784.3v3M190.2 784.3v3M193.7 784.3v3M196.8 784.3v3M217.8 784.3v3M228.5 784.3v3M236.1 784.3v3M242 784.3v3M246.8 784.3v3M250.9 784.3v3M254.4 784.3v3M257.5 784.3v3M278.5 784.3v3M289.2 784.3v3M296.8 784.3v3M302.7 784.3v3M307.5 784.3v3M311.5 784.3v3M315.1 784.3v3M318.2 784.3v3M339.2 784.3v3M349.9 784.3v3M357.5 784.3v3M363.4 784.3v3M368.2 784.3v3M372.2 784.3v3M375.7 784.3v3M378.9 784.3v3M399.9 784.3v3M410.6 784.3v3M418.2 784.3v3M424 784.3v3M428.9 784.3v3M432.9 784.3v3M436.4 784.3v3M439.5 784.3v3M460.6 784.3v3M471.3 784.3v3M478.9 784.3v3M484.7 784.3v3M489.5 784.3v3M493.6 784.3v3M497.1 784.3v3M500.2 784.3v3M78.2 765h-3.6M78.2 753.7h-3.6M78.2 745.7h-3.6M78.2 739.5h-3.6M78.2 734.4h-3.6M78.2 730.1h-3.6M78.2 726.4h-3.6M78.2 723.1h-3.6M78.2 700.9h-3.6M78.2 689.6h-3.6M78.2 681.6h-3.6M78.2 675.4h-3.6M78.2 670.3h-3.6M78.2 666h-3.6M78.2 662.3h-3.6M78.2 659h-3.6M78.2 636.8h-3.6M78.2 625.5h-3.6M78.2 617.5h-3.6M78.2 611.3h-3.6M78.2 606.2h-3.6M78.2 601.9h-3.6M78.2 598.2h-3.6M78.2 594.9h-3.6M78.2 572.7h-3.6M78.2 561.4h-3.6M78.2 553.4h-3.6M78.2 547.2h-3.6M78.2 542.1h-3.6M78.2 537.8h-3.6M78.2 534.1h-3.6M78.2 530.8h-3.6M78.2 508.6h-3.6M78.2 497.3h-3.6M78.2 489.3h-3.6M78.2 483.1h-3.6M78.2 478h-3.6M78.2 473.7h-3.6M78.2 470h-3.6M78.2 466.7h-3.6M78.2 444.5h-3.6" stroke="#000" stroke-width="3" stroke-linecap="round" fill="none"/>
<path d="M138.5 499.8L141.4 502.5L144.3 505.3L147.2 508.1L150.1 510.8L153.1 513.6L156 516.4L158.9 519.1L161.8 521.9L164.7 524.6L167.6 527.3L170.5 530L173.4 532.7L176.4 535.4L179.3 538.1L182.2 541L185.1 543.9L188 547L190.9 550.2L193.8 553.6L196.7 557.1L199.6 560.6L202.6 564.3L205.5 567.9L208.4 571.6L211.3 575.2L214.2 578.7L217.1 582.1L220 585.4L222.9 588.5L225.9 591.4L228.8 594.2L231.7 596.8L234.6 599.5L237.5 602.1L240.4 604.7L243.3 607.4L246.2 610.2L249.1 613L252.1 615.8L255 618.7L257.9 621.6L260.8 624.5L263.7 627.3L266.6 630.2L269.5 633L272.4 635.9L275.4 638.7L278.3 641.6L281.2 644.4L284.1 647.2L287 650L289.9 652.8L292.8 655.5L295.7 658.2L298.6 660.8L301.6 663.3L304.5 665.9L307.4 668.4L310.3 670.8L313.2 673.3L316.1 675.7L319 678.2L321.9 680.6L324.9 683.1L327.8 685.5L330.7 687.9L333.6 690.3L336.5 692.7L339.4 695.1L342.3 697.4L345.2 699.7L348.1 702L351.1 704.2L354 706.4L356.9 708.7L359.8 710.8L362.7 713L365.6 715.1L368.5 717.2L371.4 719.2L374.4 721.3L377.3 723.3L380.2 725.4L383.1 727.4L386 729.3L388.9 731.1L391.8 732.7L394.7 734.3L397.6 735.7L400.6 737.1L403.5 738.3L406.4 739.5L409.3 740.6L412.2 741.5L415.1 742.5L418 743.3L420.9 744.2L423.9 745L426.8 745.8L429.7 746.5L432.6 747.2L435.5 747.7L438.4 748.3L441.3 748.7L444.2 749.1L447.1 749.5L450.1 750L453 750.4L455.9 750.8L458.8 751.1L461.7 751.5L464.6 751.8L467.5 752.1L470.4 752.3L473.4 752.5L476.3 752.7L479.2 752.9L482.1 753L485 753" fill="none" stroke="#ff0000" stroke-width="2.4" stroke-linejoin="round"/>
<path d="M138.5 484L141.4 487.5L144.3 491L147.2 494.6L150.1 498.1L153.1 501.6L156 505.1L158.9 508.6L161.8 512.1L164.7 515.6L167.6 519.2L170.5 522.7L173.4 526.2L176.4 529.8L179.3 533.3L182.2 536.8L185.1 540.2L188 543.7L190.9 547.1L193.8 550.4L196.7 553.7L199.6 557L202.6 560.3L205.5 563.6L208.4 566.8L211.3 570L214.2 573.1L217.1 576.3L220 579.4L222.9 582.4L225.9 585.4L228.8 588.5L231.7 591.4L234.6 594.4L237.5 597.4L240.4 600.3L243.3 603.3L246.2 606.3L249.1 609.2L252.1 612.2L255 615.2L257.9 618.2L260.8 621.1L263.7 624L266.6 626.8L269.5 629.6L272.4 632.3L275.4 634.9L278.3 637.5L281.2 640L284.1 642.5L287 645L289.9 647.5L292.8 649.9L295.7 652.4L298.6 654.9L301.6 657.3L304.5 659.8L307.4 662.3L310.3 664.8L313.2 667.3L316.1 669.8L319 672.2L321.9 674.6L324.9 677L327.8 679.3L330.7 681.5L333.6 683.8L336.5 686L339.4 688.2L342.3 690.4L345.2 692.6L348.1 694.6L351.1 696.6L354 698.5L356.9 700.3L359.8 701.9L362.7 703.5L365.6 705L368.5 706.5L371.4 707.8L374.4 709.1L377.3 710.3L380.2 711.4L383.1 712.3L386 713.3L388.9 714.1L391.8 715L394.7 715.8L397.6 716.5L400.6 717.2L403.5 717.8L406.4 718.3L409.3 718.7L412.2 719L415.1 719.3L418 719.6L420.9 719.9L423.9 720.1L426.8 720.3L429.7 720.5L432.6 720.7L435.5 720.8L438.4 720.9L441.3 721L444.2 721.1L447.1 721.2L450.1 721.3L453 721.4L455.9 721.5L458.8 721.6L461.7 721.7L464.6 721.7L467.5 721.8L470.4 721.9L473.4 721.9L476.3 721.9L479.2 722L482.1 722L485 722" fill="none" stroke="#ff0000" stroke-width="2.4" stroke-linejoin="round"/>
<path d="M138.5 480.6L141.4 484.4L144.3 488.1L147.2 491.7L150.1 495.4L153.1 499L156 502.6L158.9 506.2L161.8 509.7L164.7 513.2L167.6 516.7L170.5 520.2L173.4 523.6L176.4 527L179.3 530.4L182.2 533.8L185.1 537.1L188 540.4L190.9 543.7L193.8 547L196.7 550.3L199.6 553.5L202.6 556.7L205.5 559.9L208.4 563.1L211.3 566.3L214.2 569.4L217.1 572.5L220 575.7L222.9 578.8L225.9 581.8L228.8 584.9L231.7 587.8L234.6 590.7L237.5 593.6L240.4 596.4L243.3 599.3L246.2 602.3L249.1 605.2L252.1 608.3L255 611.3L257.9 614.3L260.8 617.3L263.7 620.3L266.6 623.2L269.5 626L272.4 628.8L275.4 631.6L278.3 634.3L281.2 637L284.1 639.6L287 642.2L289.9 644.8L292.8 647.4L295.7 649.9L298.6 652.4L301.6 654.8L304.5 657.2L307.4 659.6L310.3 662L313.2 664.3L316.1 666.6L319 668.9L321.9 671.1L324.9 673.3L327.8 675.4L330.7 677.5L333.6 679.5L336.5 681.6L339.4 683.6L342.3 685.6L345.2 687.4L348.1 689L351.1 690.5L354 691.9L356.9 693.1L359.8 694.3L362.7 695.5L365.6 696.5L368.5 697.5L371.4 698.5L374.4 699.4L377.3 700.3L380.2 701.1L383.1 701.9L386 702.6L388.9 703.3L391.8 703.9L394.7 704.5L397.6 705.1L400.6 705.7L403.5 706.2L406.4 706.6L409.3 706.9L412.2 707.2L415.1 707.4L418 707.6L420.9 707.8L423.9 708L426.8 708.1L429.7 708.3L432.6 708.5L435.5 708.6L438.4 708.8L441.3 708.9L444.2 709.1L447.1 709.2L450.1 709.3L453 709.4L455.9 709.5L458.8 709.6L461.7 709.7L464.6 709.8L467.5 709.8L470.4 709.9L473.4 709.9L476.3 710L479.2 710L482.1 710L485 710" fill="none" stroke="#ff0000" stroke-width="2.4" stroke-linejoin="round"/>
<path d="M138.5 488.6L141.4 492.2L144.3 495.7L147.2 499.2L150.1 502.7L153.1 506.1L156 509.6L158.9 513L161.8 516.3L164.7 519.7L167.6 523L170.5 526.3L173.4 529.5L176.4 532.8L179.3 536L182.2 539.2L185.1 542.4L188 545.5L190.9 548.7L193.8 551.8L196.7 554.9L199.6 558L202.6 561L205.5 564L208.4 567.1L211.3 570.1L214.2 573.1L217.1 576L220 579L222.9 581.9L225.9 584.9L228.8 587.7L231.7 590.5L234.6 593.2L237.5 595.9L240.4 598.6L243.3 601.4L246.2 604.2L249.1 607.1L252.1 610L255 612.9L257.9 615.9L260.8 618.9L263.7 621.8L266.6 624.7L269.5 627.5L272.4 630.4L275.4 633.2L278.3 636L281.2 638.9L284.1 641.7L287 644.4L289.9 647.2L292.8 649.8L295.7 652.4L298.6 654.9L301.6 657.3L304.5 659.6L307.4 662L310.3 664.3L313.2 666.5L316.1 668.7L319 670.8L321.9 672.9L324.9 674.8L327.8 676.7L330.7 678.4L333.6 680.1L336.5 681.7L339.4 683.2L342.3 684.7L345.2 686L348.1 687.3L351.1 688.4L354 689.5L356.9 690.5L359.8 691.4L362.7 692.3L365.6 693L368.5 693.7L371.4 694.3L374.4 694.8L377.3 695.3L380.2 695.7L383.1 696.1L386 696.5L388.9 696.9L391.8 697.3L394.7 697.6L397.6 697.9L400.6 698.2L403.5 698.5L406.4 698.7L409.3 698.9L412.2 699.2L415.1 699.4L418 699.6L420.9 699.8L423.9 700.1L426.8 700.3L429.7 700.5L432.6 700.7L435.5 700.9L438.4 701.1L441.3 701.3L444.2 701.5L447.1 701.6L450.1 701.8L453 702L455.9 702.1L458.8 702.3L461.7 702.4L464.6 702.5L467.5 702.6L470.4 702.7L473.4 702.8L476.3 702.9L479.2 702.9L482.1 703L485 703" fill="none" stroke="#ff0000" stroke-width="2.4" stroke-linejoin="round"/>
<path d="M138.5 537.2L141.4 539.9L144.3 542.7L147.2 545.4L150.1 548.2L153.1 551L156 553.8L158.9 556.6L161.8 559.5L164.7 562.3L167.6 565.2L170.5 568.1L173.4 571L176.4 573.9L179.3 576.9L182.2 579.9L185.1 582.9L188 586L190.9 588.9L193.8 591.9L196.7 594.8L199.6 597.7L202.6 600.6L205.5 603.5L208.4 606.3L211.3 609.3L214.2 612.2L217.1 615.2L220 618.2L222.9 621.3L225.9 624.5L228.8 627.6L231.7 630.7L234.6 633.8L237.5 636.8L240.4 639.7L243.3 642.5L246.2 645.1L249.1 647.7L252.1 650.2L255 652.6L257.9 655L260.8 657.3L263.7 659.5L266.6 661.6L269.5 663.7L272.4 665.7L275.4 667.6L278.3 669.6L281.2 671.4L284.1 673.2L287 674.9L289.9 676.5L292.8 678L295.7 679.3L298.6 680.6L301.6 681.9L304.5 683.1L307.4 684.2L310.3 685.2L313.2 686.2L316.1 687.1L319 687.8L321.9 688.4L324.9 689L327.8 689.6L330.7 690.1L333.6 690.6L336.5 691L339.4 691.4L342.3 691.8L345.2 692.1L348.1 692.4L351.1 692.6L354 692.8L356.9 692.9L359.8 693.1L362.7 693.3L365.6 693.4L368.5 693.6L371.4 693.7L374.4 693.8L377.3 693.9L380.2 694L383.1 694.1L386 694.2L388.9 694.3L391.8 694.4L394.7 694.5L397.6 694.6L400.6 694.7L403.5 694.8L406.4 694.9L409.3 695L412.2 695.1L415.1 695.2L418 695.3L420.9 695.4L423.9 695.4L426.8 695.5L429.7 695.6L432.6 695.7L435.5 695.8L438.4 695.9L441.3 696L444.2 696L447.1 696.1L450.1 696.2L453 696.3L455.9 696.4L458.8 696.4L461.7 696.5L464.6 696.6L467.5 696.6L470.4 696.7L473.4 696.8L476.3 696.8L479.2 696.9L482.1 696.9L485 697" fill="none" stroke="#ff0000" stroke-width="2.4" stroke-linejoin="round"/>
<path d="M138.5 610.7L141.4 613.7L144.3 616.7L147.2 619.7L150.1 622.6L153.1 625.7L156 628.8L158.9 631.7L161.8 634.4L164.7 636.7L167.6 638.8L170.5 640.8L173.4 642.7L176.4 644.7L179.3 646.8L182.2 648.8L185.1 650.8L188 652.8L190.9 654.9L193.8 657L196.7 658.9L199.6 660.8L202.6 662.5L205.5 664.1L208.4 665.5L211.3 666.9L214.2 668.3L217.1 669.5L220 670.7L222.9 671.8L225.9 672.8L228.8 673.7L231.7 674.6L234.6 675.5L237.5 676.3L240.4 677L243.3 677.7L246.2 678.3L249.1 678.9L252.1 679.3L255 679.7L257.9 680.1L260.8 680.5L263.7 680.9L266.6 681.3L269.5 681.6L272.4 682L275.4 682.3L278.3 682.5L281.2 682.8L284.1 683.1L287 683.3L289.9 683.5L292.8 683.7L295.7 683.8L298.6 683.9L301.6 684.1L304.5 684.2L307.4 684.3L310.3 684.3L313.2 684.4L316.1 684.5L319 684.6L321.9 684.7L324.9 684.7L327.8 684.8L330.7 684.9L333.6 684.9L336.5 685L339.4 685.1L342.3 685.1L345.2 685.2L348.1 685.2L351.1 685.3L354 685.3L356.9 685.4L359.8 685.4L362.7 685.5L365.6 685.5L368.5 685.6L371.4 685.6L374.4 685.6L377.3 685.7L380.2 685.7L383.1 685.8L386 685.8L388.9 685.8L391.8 685.9L394.7 685.9L397.6 686L400.6 686L403.5 686.1L406.4 686.1L409.3 686.1L412.2 686.2L415.1 686.2L418 686.3L420.9 686.3L423.9 686.3L426.8 686.4L429.7 686.4L432.6 686.4L435.5 686.5L438.4 686.5L441.3 686.6L444.2 686.6L447.1 686.6L450.1 686.7L453 686.7L455.9 686.7L458.8 686.8L461.7 686.8L464.6 686.8L467.5 686.8L470.4 686.9L473.4 686.9L476.3 686.9L479.2 687L482.1 687L485 687" fill="none" stroke="#ff0000" stroke-width="2.4" stroke-linejoin="round"/>
<path d="M138.5 649.8L141.4 652L144.3 654.2L147.2 656.3L150.1 658.3L153.1 660.1L156 661.9L158.9 663.4L161.8 664.9L164.7 666.3L167.6 667.7L170.5 669L173.4 670.3L176.4 671.4L179.3 672.4L182.2 673.2L185.1 673.8L188 674.3L190.9 674.6L193.8 675L196.7 675.4L199.6 675.9L202.6 676.5L205.5 677L208.4 677.5L211.3 678L214.2 678.5L217.1 678.8L220 679L222.9 679.1L225.9 679.3L228.8 679.4L231.7 679.5L234.6 679.7L237.5 679.8L240.4 679.9L243.3 680L246.2 680.1L249.1 680.2L252.1 680.3L255 680.4L257.9 680.4L260.8 680.5L263.7 680.6L266.6 680.6L269.5 680.7L272.4 680.8L275.4 680.8L278.3 680.8L281.2 680.9L284.1 680.9L287 680.9L289.9 681L292.8 681L295.7 681L298.6 681L301.6 681L304.5 681L307.4 681L310.3 681L313.2 681L316.1 681L319 681L321.9 681L324.9 681L327.8 681L330.7 681L333.6 681L336.5 681L339.4 681L342.3 681L345.2 681L348.1 681L351.1 681L354 681L356.9 681L359.8 681L362.7 681L365.6 681L368.5 681L371.4 681L374.4 681L377.3 681L380.2 681L383.1 681L386 681L388.9 681L391.8 681L394.7 681L397.6 681L400.6 681L403.5 681L406.4 681L409.3 681L412.2 681L415.1 681L418 681L420.9 681L423.9 681L426.8 681L429.7 681L432.6 681L435.5 681L438.4 681L441.3 681L444.2 681L447.1 681L450.1 681L453 681L455.9 681L458.8 681L461.7 681L464.6 681L467.5 681L470.4 681L473.4 681L476.3 681L479.2 681L482.1 681L485 681" fill="none" stroke="#ff0000" stroke-width="2.4" stroke-linejoin="round"/>
<path d="M135.3 467.3h7.2v7.2h-7.2zM139.6 473.9h7.2v7.2h-7.2zM144 480.5h7.2v7.2h-7.2zM148.3 487.2h7.2v7.2h-7.2zM152.6 493.8h7.2v7.2h-7.2zM157 500.5h7.2v7.2h-7.2zM161.3 507.2h7.2v7.2h-7.2zM165.6 514h7.2v7.2h-7.2zM170 520.9h7.2v7.2h-7.2zM174.3 527.8h7.2v7.2h-7.2zM178.6 534.7h7.2v7.2h-7.2zM183 541.6h7.2v7.2h-7.2zM187.3 548.4h7.2v7.2h-7.2zM191.6 555.2h7.2v7.2h-7.2zM196 561.8h7.2v7.2h-7.2zM200.3 568.2h7.2v7.2h-7.2zM204.6 574.4h7.2v7.2h-7.2zM209 580.4h7.2v7.2h-7.2zM213.3 586.1h7.2v7.2h-7.2zM217.6 591.7h7.2v7.2h-7.2zM222 597.1h7.2v7.2h-7.2zM226.3 602.3h7.2v7.2h-7.2zM230.6 607.5h7.2v7.2h-7.2zM235 612.8h7.2v7.2h-7.2zM239.3 618.6h7.2v7.2h-7.2zM243.7 622.8h7.2v7.2h-7.2zM248 626.2h7.2v7.2h-7.2zM252.3 630.1h7.2v7.2h-7.2zM256.7 634h7.2v7.2h-7.2zM261 637.7h7.2v7.2h-7.2zM265.3 640.8h7.2v7.2h-7.2zM269.7 643.1h7.2v7.2h-7.2zM274 645.2h7.2v7.2h-7.2zM278.3 647.1h7.2v7.2h-7.2zM282.7 648.8h7.2v7.2h-7.2zM287 650.2h7.2v7.2h-7.2zM291.3 651.4h7.2v7.2h-7.2zM295.7 652.4h7.2v7.2h-7.2zM300 653.2h7.2v7.2h-7.2zM304.3 654h7.2v7.2h-7.2zM308.7 654.7h7.2v7.2h-7.2zM313 655.2h7.2v7.2h-7.2zM317.3 655.7h7.2v7.2h-7.2zM321.7 656h7.2v7.2h-7.2zM326 656.3h7.2v7.2h-7.2zM330.3 656.6h7.2v7.2h-7.2zM334.7 656.8h7.2v7.2h-7.2zM339 657h7.2v7.2h-7.2zM343.4 657.3h7.2v7.2h-7.2zM347.7 657.6h7.2v7.2h-7.2zM352 657.9h7.2v7.2h-7.2zM356.4 658.2h7.2v7.2h-7.2zM360.7 658.5h7.2v7.2h-7.2zM365 658.8h7.2v7.2h-7.2zM369.4 659.1h7.2v7.2h-7.2zM373.7 659.6h7.2v7.2h-7.2zM378 660.2h7.2v7.2h-7.2zM382.4 661h7.2v7.2h-7.2zM386.7 662.3h7.2v7.2h-7.2zM391 663.8h7.2v7.2h-7.2zM395.4 666.1h7.2v7.2h-7.2zM399.7 669.9h7.2v7.2h-7.2zM404 674.7h7.2v7.2h-7.2zM408.4 679.9h7.2v7.2h-7.2zM412.7 684.9h7.2v7.2h-7.2zM417 690h7.2v7.2h-7.2zM421.4 695.4h7.2v7.2h-7.2zM425.7 701.1h7.2v7.2h-7.2zM430 707.1h7.2v7.2h-7.2zM434.4 713.7h7.2v7.2h-7.2zM438.7 721.2h7.2v7.2h-7.2zM443 728.9h7.2v7.2h-7.2zM447.4 735.7h7.2v7.2h-7.2zM451.7 740.8h7.2v7.2h-7.2zM456.1 744.7h7.2v7.2h-7.2zM460.4 747.8h7.2v7.2h-7.2zM464.7 750.3h7.2v7.2h-7.2zM469.1 751.4h7.2v7.2h-7.2zM473.4 751.4h7.2v7.2h-7.2zM477.7 751.1h7.2v7.2h-7.2zM482.1 750.5h7.2v7.2h-7.2z" fill="#000000"/>
<path d="M134.9 482.5a4 4 0 1 0 8 0a4 4 0 1 0 -8 0zM139.2 488.1a4 4 0 1 0 8 0a4 4 0 1 0 -8 0zM143.6 493.7a4 4 0 1 0 8 0a4 4 0 1 0 -8 0zM147.9 499.2a4 4 0 1 0 8 0a4 4 0 1 0 -8 0zM152.2 504.8a4 4 0 1 0 8 0a4 4 0 1 0 -8 0zM156.6 510.3a4 4 0 1 0 8 0a4 4 0 1 0 -8 0zM160.9 515.9a4 4 0 1 0 8 0a4 4 0 1 0 -8 0zM165.2 521.4a4 4 0 1 0 8 0a4 4 0 1 0 -8 0zM169.6 527a4 4 0 1 0 8 0a4 4 0 1 0 -8 0zM173.9 532.5a4 4 0 1 0 8 0a4 4 0 1 0 -8 0zM178.2 538a4 4 0 1 0 8 0a4 4 0 1 0 -8 0zM182.6 543.4a4 4 0 1 0 8 0a4 4 0 1 0 -8 0zM186.9 548.7a4 4 0 1 0 8 0a4 4 0 1 0 -8 0zM191.2 553.8a4 4 0 1 0 8 0a4 4 0 1 0 -8 0zM195.6 558.8a4 4 0 1 0 8 0a4 4 0 1 0 -8 0zM199.9 563.8a4 4 0 1 0 8 0a4 4 0 1 0 -8 0zM204.2 568.7a4 4 0 1 0 8 0a4 4 0 1 0 -8 0zM208.6 573.5a4 4 0 1 0 8 0a4 4 0 1 0 -8 0zM212.9 577.9a4 4 0 1 0 8 0a4 4 0 1 0 -8 0zM217.2 581.8a4 4 0 1 0 8 0a4 4 0 1 0 -8 0zM221.6 585.6a4 4 0 1 0 8 0a4 4 0 1 0 -8 0zM225.9 589.3a4 4 0 1 0 8 0a4 4 0 1 0 -8 0zM230.2 592.7a4 4 0 1 0 8 0a4 4 0 1 0 -8 0zM234.6 596.1a4 4 0 1 0 8 0a4 4 0 1 0 -8 0zM238.9 599.7a4 4 0 1 0 8 0a4 4 0 1 0 -8 0zM243.3 603.6a4 4 0 1 0 8 0a4 4 0 1 0 -8 0zM247.6 607.8a4 4 0 1 0 8 0a4 4 0 1 0 -8 0zM251.9 612.3a4 4 0 1 0 8 0a4 4 0 1 0 -8 0zM256.3 616.8a4 4 0 1 0 8 0a4 4 0 1 0 -8 0zM260.6 621.2a4 4 0 1 0 8 0a4 4 0 1 0 -8 0zM264.9 625.5a4 4 0 1 0 8 0a4 4 0 1 0 -8 0zM269.3 629.6a4 4 0 1 0 8 0a4 4 0 1 0 -8 0zM273.6 633.7a4 4 0 1 0 8 0a4 4 0 1 0 -8 0zM277.9 637.7a4 4 0 1 0 8 0a4 4 0 1 0 -8 0zM282.3 641.5a4 4 0 1 0 8 0a4 4 0 1 0 -8 0zM286.6 645a4 4 0 1 0 8 0a4 4 0 1 0 -8 0zM290.9 648a4 4 0 1 0 8 0a4 4 0 1 0 -8 0zM295.3 650.5a4 4 0 1 0 8 0a4 4 0 1 0 -8 0zM299.6 652.9a4 4 0 1 0 8 0a4 4 0 1 0 -8 0zM303.9 655.1a4 4 0 1 0 8 0a4 4 0 1 0 -8 0zM308.3 657a4 4 0 1 0 8 0a4 4 0 1 0 -8 0zM312.6 658.8a4 4 0 1 0 8 0a4 4 0 1 0 -8 0zM316.9 660.3a4 4 0 1 0 8 0a4 4 0 1 0 -8 0zM321.3 661.7a4 4 0 1 0 8 0a4 4 0 1 0 -8 0zM325.6 662.9a4 4 0 1 0 8 0a4 4 0 1 0 -8 0zM329.9 663.8a4 4 0 1 0 8 0a4 4 0 1 0 -8 0zM334.3 664.5a4 4 0 1 0 8 0a4 4 0 1 0 -8 0zM338.6 665.1a4 4 0 1 0 8 0a4 4 0 1 0 -8 0zM343 665.8a4 4 0 1 0 8 0a4 4 0 1 0 -8 0zM347.3 666.3a4 4 0 1 0 8 0a4 4 0 1 0 -8 0zM351.6 666.9a4 4 0 1 0 8 0a4 4 0 1 0 -8 0zM356 667.4a4 4 0 1 0 8 0a4 4 0 1 0 -8 0zM360.3 668a4 4 0 1 0 8 0a4 4 0 1 0 -8 0zM364.6 668.7a4 4 0 1 0 8 0a4 4 0 1 0 -8 0zM369 669.7a4 4 0 1 0 8 0a4 4 0 1 0 -8 0zM373.3 671.1a4 4 0 1 0 8 0a4 4 0 1 0 -8 0zM377.6 672.6a4 4 0 1 0 8 0a4 4 0 1 0 -8 0zM382 674.4a4 4 0 1 0 8 0a4 4 0 1 0 -8 0zM386.3 676.4a4 4 0 1 0 8 0a4 4 0 1 0 -8 0zM390.6 678.7a4 4 0 1 0 8 0a4 4 0 1 0 -8 0zM395 681.3a4 4 0 1 0 8 0a4 4 0 1 0 -8 0zM399.3 684.2a4 4 0 1 0 8 0a4 4 0 1 0 -8 0zM403.6 687.4a4 4 0 1 0 8 0a4 4 0 1 0 -8 0zM408 690.8a4 4 0 1 0 8 0a4 4 0 1 0 -8 0zM412.3 694.6a4 4 0 1 0 8 0a4 4 0 1 0 -8 0zM416.6 699.3a4 4 0 1 0 8 0a4 4 0 1 0 -8 0zM421 703.8a4 4 0 1 0 8 0a4 4 0 1 0 -8 0zM425.3 706.9a4 4 0 1 0 8 0a4 4 0 1 0 -8 0zM429.6 709.5a4 4 0 1 0 8 0a4 4 0 1 0 -8 0zM434 711.6a4 4 0 1 0 8 0a4 4 0 1 0 -8 0zM438.3 713.6a4 4 0 1 0 8 0a4 4 0 1 0 -8 0zM442.6 715.3a4 4 0 1 0 8 0a4 4 0 1 0 -8 0zM447 716.5a4 4 0 1 0 8 0a4 4 0 1 0 -8 0zM451.3 717.3a4 4 0 1 0 8 0a4 4 0 1 0 -8 0zM455.7 718a4 4 0 1 0 8 0a4 4 0 1 0 -8 0zM460 718.7a4 4 0 1 0 8 0a4 4 0 1 0 -8 0zM464.3 719.2a4 4 0 1 0 8 0a4 4 0 1 0 -8 0zM468.7 719.7a4 4 0 1 0 8 0a4 4 0 1 0 -8 0zM473 720.1a4 4 0 1 0 8 0a4 4 0 1 0 -8 0zM477.3 720.5a4 4 0 1 0 8 0a4 4 0 1 0 -8 0zM481.7 720.8a4 4 0 1 0 8 0a4 4 0 1 0 -8 0z" fill="#00ff00"/>
<path d="M138.9 473.9L143.9 482.6L133.9 482.6zM143.2 479.6L148.2 488.3L138.2 488.3zM147.6 485.3L152.6 493.9L142.6 493.9zM151.9 490.8L156.9 499.5L146.9 499.5zM156.2 496.2L161.2 504.9L151.2 504.9zM160.6 501.4L165.6 510.1L155.6 510.1zM164.9 506.5L169.9 515.2L159.9 515.2zM169.2 511.5L174.2 520.1L164.2 520.1zM173.6 516.3L178.6 524.9L168.6 524.9zM177.9 521.1L182.9 529.7L172.9 529.7zM182.2 525.8L187.2 534.5L177.2 534.5zM186.6 530.6L191.6 539.3L181.6 539.3zM190.9 535.5L195.9 544.2L185.9 544.2zM195.2 540.5L200.2 549.2L190.2 549.2zM199.6 545.6L204.6 554.2L194.6 554.2zM203.9 550.7L208.9 559.3L198.9 559.3zM208.2 555.8L213.2 564.4L203.2 564.4zM212.6 560.8L217.6 569.5L207.6 569.5zM216.9 565.8L221.9 574.4L211.9 574.4zM221.2 570.6L226.2 579.2L216.2 579.2zM225.6 575.1L230.6 583.8L220.6 583.8zM229.9 579.5L234.9 588.1L224.9 588.1zM234.2 583.5L239.2 592.2L229.2 592.2zM238.6 587.5L243.6 596.2L233.6 596.2zM242.9 591.6L247.9 600.2L237.9 600.2zM247.3 595.8L252.3 604.5L242.3 604.5zM251.6 600.3L256.6 608.9L246.6 608.9zM255.9 604.8L260.9 613.5L250.9 613.5zM260.3 609.3L265.3 618L255.3 618zM264.6 613.8L269.6 622.4L259.6 622.4zM268.9 618L273.9 626.6L263.9 626.6zM273.3 621.9L278.3 630.6L268.3 630.6zM277.6 625.8L282.6 634.4L272.6 634.4zM281.9 629.5L286.9 638.1L276.9 638.1zM286.3 633L291.3 641.7L281.3 641.7zM290.6 636.5L295.6 645.2L285.6 645.2zM294.9 639.9L299.9 648.6L289.9 648.6zM299.3 643.3L304.3 652L294.3 652zM303.6 646.7L308.6 655.4L298.6 655.4zM307.9 650.1L312.9 658.7L302.9 658.7zM312.3 653.2L317.3 661.9L307.3 661.9zM316.6 656L321.6 664.7L311.6 664.7zM320.9 658.5L325.9 667.1L315.9 667.1zM325.3 660.6L330.3 669.3L320.3 669.3zM329.6 662.5L334.6 671.1L324.6 671.1zM333.9 663.9L338.9 672.6L328.9 672.6zM338.3 665.1L343.3 673.7L333.3 673.7zM342.6 666L347.6 674.7L337.6 674.7zM347 666.8L352 675.5L342 675.5zM351.3 667.4L356.3 676.1L346.3 676.1zM355.6 667.9L360.6 676.6L350.6 676.6zM360 668.4L365 677.1L355 677.1zM364.3 669L369.3 677.7L359.3 677.7zM368.6 669.7L373.6 678.4L363.6 678.4zM373 670.7L378 679.3L368 679.3zM377.3 672L382.3 680.7L372.3 680.7zM381.6 673.6L386.6 682.2L376.6 682.2zM386 675.3L391 684L381 684zM390.3 677.1L395.3 685.8L385.3 685.8zM394.6 679.1L399.6 687.7L389.6 687.7zM399 681.3L404 690L394 690zM403.3 683.6L408.3 692.3L398.3 692.3zM407.6 685.9L412.6 694.5L402.6 694.5zM412 687.9L417 696.5L407 696.5zM416.3 689.9L421.3 698.5L411.3 698.5zM420.6 691.8L425.6 700.4L415.6 700.4zM425 693.4L430 702.1L420 702.1zM429.3 694.8L434.3 703.5L424.3 703.5zM433.6 696.1L438.6 704.7L428.6 704.7zM438 697.2L443 705.8L433 705.8zM442.3 698.2L447.3 706.9L437.3 706.9zM446.6 699.1L451.6 707.8L441.6 707.8zM451 699.9L456 708.6L446 708.6zM455.3 700.7L460.3 709.4L450.3 709.4zM459.7 701.4L464.7 710.1L454.7 710.1zM464 702L469 710.7L459 710.7zM468.3 702.6L473.3 711.3L463.3 711.3zM472.7 703L477.7 711.7L467.7 711.7zM477 703.4L482 712.1L472 712.1zM481.3 703.7L486.3 712.4L476.3 712.4zM485.7 704L490.7 712.6L480.7 712.6z" fill="#0000ff"/>
<path d="M138.9 483.6L144 488.7L138.9 493.8L133.8 488.7zM143.2 488.3L148.3 493.4L143.2 498.5L138.1 493.4zM147.6 491.9L153.8 498.1L147.6 504.3L141.4 498.1zM151.9 496.6L158.1 502.8L151.9 509L145.7 502.8zM156.2 501.3L162.4 507.5L156.2 513.7L150 507.5zM160.6 506L166.8 512.2L160.6 518.4L154.4 512.2zM164.9 510.8L171.1 517L164.9 523.2L158.7 517zM169.2 515.5L175.4 521.7L169.2 527.9L163 521.7zM173.6 520.3L179.8 526.5L173.6 532.7L167.4 526.5zM177.9 525.1L184.1 531.3L177.9 537.5L171.7 531.3zM182.2 529.8L188.4 536L182.2 542.2L176 536zM186.6 534.6L192.8 540.8L186.6 547L180.4 540.8zM190.9 539.4L197.1 545.6L190.9 551.8L184.7 545.6zM195.2 544.3L201.4 550.5L195.2 556.7L189 550.5zM199.6 549.2L205.8 555.4L199.6 561.6L193.4 555.4zM203.9 554.2L210.1 560.4L203.9 566.6L197.7 560.4zM208.2 559.1L214.4 565.3L208.2 571.5L202 565.3zM212.6 564L218.8 570.2L212.6 576.4L206.4 570.2zM216.9 568.8L223.1 575L216.9 581.2L210.7 575zM221.2 573.3L227.4 579.5L221.2 585.7L215 579.5zM225.6 577.7L231.8 583.9L225.6 590.1L219.4 583.9zM229.9 581.7L236.1 587.9L229.9 594.1L223.7 587.9zM234.2 585.5L240.4 591.7L234.2 597.9L228 591.7zM238.6 589.1L244.8 595.3L238.6 601.5L232.4 595.3zM242.9 592.9L249.1 599.1L242.9 605.3L236.7 599.1zM247.3 596.9L253.5 603.1L247.3 609.3L241.1 603.1zM251.6 601.3L257.8 607.5L251.6 613.7L245.4 607.5zM255.9 605.7L262.1 611.9L255.9 618.1L249.7 611.9zM260.3 610.2L266.5 616.4L260.3 622.6L254.1 616.4zM264.6 614.6L270.8 620.8L264.6 627L258.4 620.8zM268.9 618.8L275.1 625L268.9 631.2L262.7 625zM273.3 622.7L279.5 628.9L273.3 635.1L267.1 628.9zM277.6 626.6L283.8 632.8L277.6 639L271.4 632.8zM281.9 630.3L288.1 636.5L281.9 642.6L275.7 636.5zM286.3 633.9L292.4 640L286.3 646.2L280.1 640zM290.6 637.4L296.7 643.5L290.6 649.6L284.5 643.5zM294.9 640.9L301 646.9L294.9 653L288.9 646.9zM299.3 644.3L305.3 650.3L299.3 656.4L293.2 650.3zM303.6 647.7L309.7 653.7L303.6 659.8L297.6 653.7zM307.9 651L313.9 657L307.9 663L301.9 657zM312.3 654.2L318.2 660.1L312.3 666L306.4 660.1zM316.6 657.2L322.4 663L316.6 668.8L310.8 663zM320.9 659.8L326.6 665.5L320.9 671.2L315.3 665.5zM325.3 662.3L330.9 667.9L325.3 673.5L319.7 667.9zM329.6 664.6L335 670L329.6 675.3L324.2 670zM333.9 666.2L339.1 671.4L333.9 676.6L328.8 671.4zM338.3 667.4L343.4 672.5L338.3 677.6L333.2 672.5zM342.6 668.3L347.7 673.4L342.6 678.5L337.5 673.4zM347 669L352.1 674.1L347 679.2L341.9 674.1zM351.3 669.7L356.4 674.8L351.3 679.9L346.2 674.8zM355.6 670.3L360.7 675.4L355.6 680.5L350.5 675.4zM360 670.9L365.1 676L360 681.1L354.9 676zM364.3 671.5L369.4 676.6L364.3 681.7L359.2 676.6zM368.6 672.2L373.7 677.3L368.6 682.4L363.5 677.3zM373 673L378.1 678.1L373 683.2L367.9 678.1zM377.3 673.9L382.4 679L377.3 684.1L372.2 679zM381.6 675L386.7 680.1L381.6 685.2L376.5 680.1zM386 676L391.1 681.1L386 686.2L380.9 681.1zM390.3 677.1L395.4 682.2L390.3 687.3L385.2 682.2zM394.6 678L399.7 683.1L394.6 688.2L389.5 683.1zM399 678.8L404.1 683.9L399 689L393.9 683.9zM403.3 679.3L408.4 684.4L403.3 689.5L398.2 684.4zM407.6 679.8L412.7 684.9L407.6 690L402.5 684.9zM412 680.2L417.1 685.3L412 690.4L406.9 685.3zM416.3 680.6L421.4 685.7L416.3 690.8L411.2 685.7zM420.6 681L425.7 686.1L420.6 691.2L415.5 686.1zM425 681.4L430.1 686.5L425 691.6L419.9 686.5zM429.3 681.8L434.4 686.9L429.3 692L424.2 686.9zM433.6 682.3L438.7 687.4L433.6 692.5L428.5 687.4zM438 682.8L443.1 687.9L438 693L432.9 687.9zM442.3 683.3L447.4 688.4L442.3 693.5L437.2 688.4zM446.6 683.9L451.7 689L446.6 694.1L441.5 689zM451 684.5L456.1 689.6L451 694.7L445.9 689.6zM455.3 685.2L460.4 690.3L455.3 695.4L450.2 690.3zM459.7 685.8L464.8 690.9L459.7 696L454.6 690.9zM464 686.6L469.1 691.7L464 696.8L458.9 691.7zM468.3 687.5L473.4 692.6L468.3 697.7L463.2 692.6zM472.7 688.4L477.9 693.7L472.7 699L467.4 693.7zM477 690L482.5 695.5L477 701L471.5 695.5zM481.3 692.2L487.1 697.9L481.3 703.7L475.6 697.9zM485.7 694.9L491.5 700.8L485.7 706.6L479.8 700.8z" fill="#ff00ff"/>
<path d="M138.9 531.1L143.9 522.5L133.9 522.5zM143.2 535.8L148.2 527.1L138.2 527.1zM147.6 540.5L152.6 531.8L142.6 531.8zM151.9 545.2L156.9 536.6L146.9 536.6zM156.2 550L161.2 541.3L151.2 541.3zM160.6 554.8L165.6 546.1L155.6 546.1zM164.9 559.6L169.9 550.9L159.9 550.9zM169.2 564.4L174.2 555.8L164.2 555.8zM173.6 569.3L178.6 560.6L168.6 560.6zM177.9 574.2L182.9 565.5L172.9 565.5zM182.2 579.1L187.2 570.4L177.2 570.4zM186.6 584L191.6 575.3L181.6 575.3zM190.9 589L195.9 580.3L185.9 580.3zM195.2 594L200.2 585.3L190.2 585.3zM199.6 599L204.6 590.4L194.6 590.4zM203.9 604.1L208.9 595.4L198.9 595.4zM208.2 609.2L213.2 600.5L203.2 600.5zM212.6 614.3L217.6 605.6L207.6 605.6zM216.9 619.2L221.9 610.5L211.9 610.5zM221.2 623.9L226.2 615.3L216.2 615.3zM225.6 628.7L230.6 620L220.6 620zM229.9 633.4L234.9 624.8L224.9 624.8zM234.2 638.1L239.2 629.5L229.2 629.5zM238.6 642.6L243.6 634L233.6 634zM242.9 646.7L247.9 638L237.9 638zM247.3 650.5L252.3 641.9L242.3 641.9zM251.6 654.3L256.6 645.7L246.6 645.7zM255.9 657.9L260.9 649.2L250.9 649.2zM260.3 660.9L265.3 652.2L255.3 652.2zM264.6 663.6L269.6 654.9L259.6 654.9zM268.9 666L273.9 657.3L263.9 657.3zM273.3 668.1L278.3 659.4L268.3 659.4zM277.6 670L282.6 661.4L272.6 661.4zM281.9 671.8L286.9 663.1L276.9 663.1zM286.3 673.5L291.3 664.8L281.3 664.8zM290.6 675.1L295.6 666.4L285.6 666.4zM294.9 676.5L299.9 667.8L289.9 667.8zM299.3 677.9L304.3 669.2L294.3 669.2zM303.6 679.1L308.6 670.4L298.6 670.4zM307.9 680.1L312.9 671.5L302.9 671.5zM312.3 680.9L317.3 672.3L307.3 672.3zM316.6 681.6L321.6 672.9L311.6 672.9zM320.9 682.1L325.9 673.5L315.9 673.5zM325.3 682.6L330.3 673.9L320.3 673.9zM329.6 682.9L334.6 674.3L324.6 674.3zM333.9 683.3L338.9 674.6L328.9 674.6zM338.3 683.6L343.3 674.9L333.3 674.9zM342.6 683.9L347.6 675.2L337.6 675.2zM347 684.1L352 675.5L342 675.5zM351.3 684.4L356.3 675.7L346.3 675.7zM355.6 684.6L360.6 675.9L350.6 675.9zM360 684.8L365 676.1L355 676.1zM364.3 685L369.3 676.3L359.3 676.3zM368.6 685.2L373.6 676.5L363.6 676.5zM373 685.3L378 676.7L368 676.7zM377.3 685.5L382.3 676.8L372.3 676.8zM381.6 685.7L386.6 677L376.6 677zM386 685.8L391 677.2L381 677.2zM390.3 686L395.3 677.4L385.3 677.4zM394.6 686.2L399.6 677.6L389.6 677.6zM399 686.5L404 677.8L394 677.8zM403.3 686.7L408.3 678L398.3 678zM407.6 686.9L412.6 678.3L402.6 678.3zM412 687.2L417 678.5L407 678.5zM416.3 687.4L421.3 678.8L411.3 678.8zM420.6 687.7L425.6 679L415.6 679zM425 687.9L430 679.3L420 679.3zM429.3 688.2L434.3 679.6L424.3 679.6zM433.6 688.5L438.6 679.9L428.6 679.9zM438 688.9L443 680.2L433 680.2zM442.3 689.3L447.3 680.6L437.3 680.6zM446.6 689.7L451.6 681L441.6 681zM451 690.1L456 681.5L446 681.5zM455.3 690.7L460.3 682L450.3 682zM459.7 691.3L464.7 682.6L454.7 682.6zM464 692.1L469 683.4L459 683.4zM468.3 693L473.3 684.4L463.3 684.4zM472.7 694.2L477.7 685.6L467.7 685.6zM477 696.1L482 687.5L472 687.5zM481.3 698.7L486.3 690.1L476.3 690.1zM485.7 701.8L490.7 693.1L480.7 693.1z" fill="#808000"/>
<path d="M138.8 593.4L139.9 596.5L143.2 596.6L140.5 598.6L141.5 601.7L138.8 599.8L136.1 601.7L137.1 598.6L134.4 596.6L137.7 596.5zM142.5 599.2L143.6 602.3L146.9 602.4L144.2 604.4L145.2 607.5L142.5 605.6L139.8 607.5L140.8 604.4L138.1 602.4L141.4 602.3zM147.5 604.2L148.6 607.3L151.9 607.4L149.2 609.4L150.2 612.5L147.5 610.6L144.8 612.5L145.8 609.4L143.1 607.4L146.4 607.3zM152.5 609.2L153.6 612.3L156.9 612.4L154.2 614.4L155.2 617.5L152.5 615.6L149.8 617.5L150.8 614.4L148.1 612.4L151.4 612.3zM156 614.2L157.1 617.3L160.4 617.4L157.7 619.4L158.7 622.5L156 620.6L153.3 622.5L154.3 619.4L151.6 617.4L154.9 617.3zM160 617.9L161.1 621L164.4 621.1L161.7 623.1L162.7 626.2L160 624.3L157.3 626.2L158.3 623.1L155.6 621.1L158.9 621zM165 626.4L166.1 629.5L169.4 629.6L166.7 631.6L167.7 634.7L165 632.8L162.3 634.7L163.3 631.6L160.6 629.6L163.9 629.5zM168.8 629.2L169.9 632.3L173.2 632.4L170.5 634.4L171.5 637.5L168.8 635.6L166.1 637.5L167.1 634.4L164.4 632.4L167.7 632.3zM173.8 631.4L174.9 634.5L178.2 634.6L175.5 636.6L176.5 639.7L173.8 637.8L171.1 639.7L172.1 636.6L169.4 634.6L172.7 634.5zM177.5 647.9L178.6 651L181.9 651.1L179.2 653.1L180.2 656.2L177.5 654.3L174.8 656.2L175.8 653.1L173.1 651.1L176.4 651zM182.5 629.2L183.6 632.3L186.9 632.4L184.2 634.4L185.2 637.5L182.5 635.6L179.8 637.5L180.8 634.4L178.1 632.4L181.4 632.3zM187.5 649.2L188.6 652.3L191.9 652.4L189.2 654.4L190.2 657.5L187.5 655.6L184.8 657.5L185.8 654.4L183.1 652.4L186.4 652.3zM191 647.9L192.1 651L195.4 651.1L192.7 653.1L193.7 656.2L191 654.3L188.3 656.2L189.3 653.1L186.6 651.1L189.9 651zM196 642.4L197.1 645.5L200.4 645.6L197.7 647.6L198.7 650.7L196 648.8L193.3 650.7L194.3 647.6L191.6 645.6L194.9 645.5zM200 654.2L201.1 657.3L204.4 657.4L201.7 659.4L202.7 662.5L200 660.6L197.3 662.5L198.3 659.4L195.6 657.4L198.9 657.3zM205 656.4L206.1 659.5L209.4 659.6L206.7 661.6L207.7 664.7L205 662.8L202.3 664.7L203.3 661.6L200.6 659.6L203.9 659.5zM210 659.2L211.1 662.3L214.4 662.4L211.7 664.4L212.7 667.5L210 665.6L207.3 667.5L208.3 664.4L205.6 662.4L208.9 662.3zM215 660.4L216.1 663.5L219.4 663.6L216.7 665.6L217.7 668.7L215 666.8L212.3 668.7L213.3 665.6L210.6 663.6L213.9 663.5zM220 661.4L221.1 664.5L224.4 664.6L221.7 666.6L222.7 669.7L220 667.8L217.3 669.7L218.3 666.6L215.6 664.6L218.9 664.5zM225 662.9L226.1 666L229.4 666.1L226.7 668.1L227.7 671.2L225 669.3L222.3 671.2L223.3 668.1L220.6 666.1L223.9 666zM227.5 660.4L228.6 663.5L231.9 663.6L229.2 665.6L230.2 668.7L227.5 666.8L224.8 668.7L225.8 665.6L223.1 663.6L226.4 663.5zM232.5 665.4L233.6 668.5L236.9 668.6L234.2 670.6L235.2 673.7L232.5 671.8L229.8 673.7L230.8 670.6L228.1 668.6L231.4 668.5zM237.5 666.4L238.6 669.5L241.9 669.6L239.2 671.6L240.2 674.7L237.5 672.8L234.8 674.7L235.8 671.6L233.1 669.6L236.4 669.5zM242.5 667.9L243.6 671L246.9 671.1L244.2 673.1L245.2 676.2L242.5 674.3L239.8 676.2L240.8 673.1L238.1 671.1L241.4 671zM247.5 669.2L248.6 672.3L251.9 672.4L249.2 674.4L250.2 677.5L247.5 675.6L244.8 677.5L245.8 674.4L243.1 672.4L246.4 672.3zM252.5 669.9L253.6 673L256.9 673.1L254.2 675.1L255.2 678.2L252.5 676.3L249.8 678.2L250.8 675.1L248.1 673.1L251.4 673zM255.9 670.2L257 673.3L260.3 673.4L257.7 675.4L258.6 678.5L255.9 676.7L253.2 678.5L254.2 675.4L251.5 673.4L254.8 673.3zM260.3 670.6L261.3 673.7L264.6 673.8L262 675.8L263 678.9L260.3 677L257.6 678.9L258.5 675.8L255.9 673.8L259.2 673.7zM264.6 671L265.7 674.1L269 674.1L266.3 676.1L267.3 679.3L264.6 677.4L261.9 679.3L262.8 676.1L260.2 674.1L263.5 674.1zM268.9 671.3L270 674.4L273.3 674.5L270.7 676.5L271.6 679.6L268.9 677.8L266.2 679.6L267.2 676.5L264.6 674.5L267.8 674.4zM273.3 671.6L274.3 674.8L277.6 674.8L275 676.8L276 680L273.3 678.1L270.6 680L271.5 676.8L268.9 674.8L272.2 674.8zM277.6 672L278.7 675.1L282 675.1L279.3 677.1L280.3 680.3L277.6 678.4L274.9 680.3L275.8 677.1L273.2 675.1L276.5 675.1zM281.9 672.3L283 675.4L286.3 675.4L283.7 677.4L284.6 680.6L281.9 678.7L279.2 680.6L280.2 677.4L277.6 675.4L280.8 675.4zM286.3 672.6L287.3 675.7L290.6 675.7L288 677.7L289 680.9L286.3 679L283.6 680.9L284.5 677.7L281.9 675.7L285.2 675.7zM290.6 672.8L291.7 676L295 676L292.3 678L293.3 681.2L290.6 679.3L287.9 681.2L288.9 678L286.2 676L289.5 676zM294.9 673.1L296 676.2L299.3 676.3L296.7 678.3L297.6 681.4L294.9 679.6L292.2 681.4L293.2 678.3L290.6 676.3L293.9 676.2zM299.3 673.4L300.4 676.5L303.6 676.5L301 678.5L302 681.7L299.3 679.8L296.6 681.7L297.5 678.5L294.9 676.5L298.2 676.5zM303.6 673.6L304.7 676.7L308 676.8L305.4 678.8L306.3 681.9L303.6 680L300.9 681.9L301.9 678.8L299.2 676.8L302.5 676.7zM307.9 673.8L309 676.9L312.3 677L309.7 679L310.6 682.1L307.9 680.2L305.2 682.1L306.2 679L303.6 677L306.9 676.9zM312.3 674L313.4 677.1L316.6 677.2L314 679.2L315 682.3L312.3 680.5L309.6 682.3L310.5 679.2L307.9 677.2L311.2 677.1zM316.6 674.2L317.7 677.3L321 677.4L318.4 679.4L319.3 682.5L316.6 680.7L313.9 682.5L314.9 679.4L312.2 677.4L315.5 677.3zM320.9 674.4L322 677.5L325.3 677.6L322.7 679.6L323.6 682.7L320.9 680.9L318.2 682.7L319.2 679.6L316.6 677.6L319.9 677.5zM325.3 674.6L326.4 677.7L329.7 677.8L327 679.8L328 682.9L325.3 681L322.6 682.9L323.5 679.8L320.9 677.8L324.2 677.7zM329.6 674.8L330.7 677.9L334 678L331.4 679.9L332.3 683.1L329.6 681.2L326.9 683.1L327.9 679.9L325.2 678L328.5 677.9zM333.9 675L335 678.1L338.3 678.1L335.7 680.1L336.7 683.3L333.9 681.4L331.2 683.3L332.2 680.1L329.6 678.1L332.9 678.1zM338.3 675.1L339.4 678.2L342.7 678.3L340 680.3L341 683.5L338.3 681.6L335.6 683.5L336.5 680.3L333.9 678.3L337.2 678.2zM342.6 675.3L343.7 678.4L347 678.5L344.4 680.5L345.3 683.6L342.6 681.7L339.9 683.6L340.9 680.5L338.2 678.5L341.5 678.4zM347 675.5L348 678.6L351.3 678.7L348.7 680.6L349.7 683.8L347 681.9L344.2 683.8L345.2 680.6L342.6 678.7L345.9 678.6zM351.3 675.6L352.4 678.8L355.7 678.8L353 680.8L354 684L351.3 682.1L348.6 684L349.5 680.8L346.9 678.8L350.2 678.8zM355.6 675.8L356.7 678.9L360 679L357.4 681L358.3 684.1L355.6 682.2L352.9 684.1L353.9 681L351.2 679L354.5 678.9zM360 675.9L361 679.1L364.3 679.1L361.7 681.1L362.7 684.3L360 682.4L357.3 684.3L358.2 681.1L355.6 679.1L358.9 679.1zM364.3 676.1L365.4 679.2L368.7 679.3L366 681.2L367 684.4L364.3 682.5L361.6 684.4L362.5 681.2L359.9 679.3L363.2 679.2zM368.6 676.2L369.7 679.3L373 679.4L370.4 681.4L371.3 684.5L368.6 682.7L365.9 684.5L366.9 681.4L364.2 679.4L367.5 679.3zM373 676.4L374 679.5L377.3 679.5L374.7 681.5L375.7 684.7L373 682.8L370.3 684.7L371.2 681.5L368.6 679.5L371.9 679.5zM377.3 676.5L378.4 679.6L381.7 679.7L379 681.7L380 684.8L377.3 682.9L374.6 684.8L375.5 681.7L372.9 679.7L376.2 679.6zM381.6 676.7L382.7 679.8L386 679.8L383.4 681.8L384.3 685L381.6 683.1L378.9 685L379.9 681.8L377.3 679.8L380.5 679.8zM386 676.8L387 679.9L390.3 680L387.7 682L388.7 685.1L386 683.2L383.3 685.1L384.2 682L381.6 680L384.9 679.9zM390.3 677L391.4 680.1L394.7 680.2L392 682.1L393 685.3L390.3 683.4L387.6 685.3L388.5 682.1L385.9 680.2L389.2 680.1zM394.6 677.2L395.7 680.3L399 680.3L396.4 682.3L397.3 685.5L394.6 683.6L391.9 685.5L392.9 682.3L390.3 680.3L393.6 680.3zM399 677.4L400 680.5L403.3 680.5L400.7 682.5L401.7 685.7L399 683.8L396.3 685.7L397.2 682.5L394.6 680.5L397.9 680.5zM403.3 677.6L404.4 680.7L407.7 680.7L405.1 682.7L406 685.9L403.3 684L400.6 685.9L401.6 682.7L398.9 680.7L402.2 680.7zM407.6 677.8L408.7 680.9L412 681L409.4 683L410.3 686.1L407.6 684.2L404.9 686.1L405.9 683L403.3 681L406.6 680.9zM412 678L413.1 681.1L416.3 681.2L413.7 683.2L414.7 686.3L412 684.5L409.3 686.3L410.2 683.2L407.6 681.2L410.9 681.1zM416.3 678.3L417.4 681.4L420.7 681.4L418.1 683.4L419 686.6L416.3 684.7L413.6 686.6L414.6 683.4L411.9 681.4L415.2 681.4zM420.6 678.5L421.7 681.6L425 681.7L422.4 683.7L423.3 686.8L420.6 685L417.9 686.8L418.9 683.7L416.3 681.7L419.6 681.6zM425 678.8L426.1 681.9L429.4 682L426.7 684L427.7 687.1L425 685.2L422.3 687.1L423.2 684L420.6 682L423.9 681.9zM429.3 679.1L430.4 682.2L433.7 682.3L431.1 684.3L432 687.4L429.3 685.6L426.6 687.4L427.6 684.3L424.9 682.3L428.2 682.2zM433.6 679.4L434.7 682.5L438 682.6L435.4 684.6L436.3 687.8L433.6 685.9L430.9 687.8L431.9 684.6L429.3 682.6L432.6 682.5zM438 679.8L439.1 682.9L442.4 683L439.7 685L440.7 688.1L438 686.2L435.3 688.1L436.2 685L433.6 683L436.9 682.9zM442.3 680.2L443.4 683.3L446.7 683.3L444.1 685.3L445 688.5L442.3 686.6L439.6 688.5L440.6 685.3L437.9 683.3L441.2 683.3zM446.6 680.6L447.7 683.7L451 683.7L448.4 685.7L449.4 688.9L446.6 687L443.9 688.9L444.9 685.7L442.3 683.7L445.6 683.7zM451 681L452.1 684.1L455.4 684.2L452.7 686.2L453.7 689.3L451 687.4L448.3 689.3L449.2 686.2L446.6 684.2L449.9 684.1zM455.3 681.5L456.4 684.6L459.7 684.7L457.1 686.6L458 689.8L455.3 687.9L452.6 689.8L453.6 686.6L450.9 684.7L454.2 684.6zM459.7 682L460.7 685.1L464 685.2L461.4 687.2L462.4 690.3L459.7 688.5L456.9 690.3L457.9 687.2L455.3 685.2L458.6 685.1zM464 682.7L465.1 685.8L468.4 685.9L465.7 687.9L466.7 691L464 689.1L461.3 691L462.2 687.9L459.6 685.9L462.9 685.8zM468.3 683.5L469.4 686.6L472.7 686.7L470.1 688.7L471 691.9L468.3 690L465.6 691.9L466.6 688.7L463.9 686.7L467.2 686.6zM472.7 684.6L473.7 687.7L477 687.8L474.4 689.8L475.4 692.9L472.7 691L470 692.9L470.9 689.8L468.3 687.8L471.6 687.7zM477 686.4L478.1 689.5L481.4 689.6L478.7 691.6L479.7 694.7L477 692.9L474.3 694.7L475.2 691.6L472.6 689.6L475.9 689.5zM481.3 689.1L482.4 692.2L485.7 692.3L483.1 694.2L484 697.4L481.3 695.5L478.6 697.4L479.6 694.2L477 692.3L480.2 692.2zM485.7 692.2L486.7 695.3L490 695.3L487.4 697.3L488.4 700.5L485.7 698.6L483 700.5L483.9 697.3L481.3 695.3L484.6 695.3z" fill="#800080"/>
<path d="M138.8 638.4L143.9 642.1L142 648.2L135.6 648.2L133.7 642.1zM142.5 640.1L147.6 643.8L145.7 649.9L139.3 649.9L137.4 643.8zM147.5 647.1L152.6 650.8L150.7 656.9L144.3 656.9L142.4 650.8zM151 649.6L156.1 653.3L154.2 659.4L147.8 659.4L145.9 653.3zM156 652.1L161.1 655.8L159.2 661.9L152.8 661.9L150.9 655.8zM160 654.6L165.1 658.3L163.2 664.4L156.8 664.4L154.9 658.3zM165 658.4L170.1 662.1L168.2 668.2L161.8 668.2L159.9 662.1zM170 660.6L175.1 664.3L173.2 670.4L166.8 670.4L164.9 664.3zM175 663.4L180.1 667.1L178.2 673.2L171.8 673.2L169.9 667.1zM178.8 660.6L183.9 664.3L182 670.4L175.6 670.4L173.7 664.3zM182.5 658.4L187.6 662.1L185.7 668.2L179.3 668.2L177.4 662.1zM186 665.6L191.1 669.3L189.2 675.4L182.8 675.4L180.9 669.3zM191 662.1L196.1 665.8L194.2 671.9L187.8 671.9L185.9 665.8zM196 673.4L201.1 677.1L199.2 683.2L192.8 683.2L190.9 677.1zM200 670.6L205.1 674.3L203.2 680.4L196.8 680.4L194.9 674.3zM205 665.6L210.1 669.3L208.2 675.4L201.8 675.4L199.9 669.3zM208.8 674.6L213.9 678.3L212 684.4L205.6 684.4L203.7 678.3zM212.5 670.6L217.6 674.3L215.7 680.4L209.3 680.4L207.4 674.3zM217.5 670.6L222.6 674.3L220.7 680.4L214.3 680.4L212.4 674.3zM221.5 672.6L226.6 676.3L224.7 682.4L218.3 682.4L216.4 676.3zM226 673.1L231.1 676.8L229.2 682.9L222.8 682.9L220.9 676.8zM229.9 673.4L235 677.1L233.1 683.2L226.7 683.2L224.8 677.1zM234.2 673.7L239.4 677.5L237.4 683.5L231.1 683.5L229.1 677.5zM238.6 674L243.7 677.8L241.8 683.8L235.4 683.8L233.4 677.8zM242.9 674.3L248.1 678L246.1 684.1L239.7 684.1L237.8 678zM247.3 674.5L252.4 678.2L250.4 684.3L244.1 684.3L242.1 678.2zM251.6 674.6L256.7 678.4L254.8 684.4L248.4 684.4L246.5 678.4zM255.9 674.8L261.1 678.5L259.1 684.5L252.7 684.5L250.8 678.5zM260.3 674.9L265.4 678.6L263.4 684.7L257.1 684.7L255.1 678.6zM264.6 675L269.7 678.7L267.8 684.7L261.4 684.7L259.5 678.7zM268.9 675.1L274.1 678.8L272.1 684.8L265.8 684.8L263.8 678.8zM273.3 675.1L278.4 678.9L276.4 684.9L270.1 684.9L268.1 678.9zM277.6 675.2L282.7 678.9L280.8 685L274.4 685L272.5 678.9zM281.9 675.3L287.1 679L285.1 685.1L278.8 685.1L276.8 679zM286.3 675.4L291.4 679.1L289.4 685.1L283.1 685.1L281.1 679.1zM290.6 675.4L295.7 679.2L293.8 685.2L287.4 685.2L285.5 679.2zM294.9 675.5L300.1 679.2L298.1 685.3L291.8 685.3L289.8 679.2zM299.3 675.6L304.4 679.3L302.4 685.4L296.1 685.4L294.1 679.3zM303.6 675.7L308.7 679.4L306.8 685.4L300.4 685.4L298.5 679.4zM307.9 675.8L313.1 679.5L311.1 685.5L304.8 685.5L302.8 679.5zM312.3 675.8L317.4 679.6L315.4 685.6L309.1 685.6L307.1 679.6zM316.6 675.9L321.7 679.7L319.8 685.7L313.4 685.7L311.5 679.7zM320.9 676L326.1 679.7L324.1 685.8L317.8 685.8L315.8 679.7zM325.3 676.1L330.4 679.8L328.5 685.9L322.1 685.9L320.1 679.8zM329.6 676.2L334.7 679.9L332.8 685.9L326.4 685.9L324.5 679.9zM333.9 676.2L339.1 680L337.1 686L330.8 686L328.8 680zM338.3 676.3L343.4 680.1L341.5 686.1L335.1 686.1L333.1 680.1zM342.6 676.4L347.8 680.1L345.8 686.2L339.4 686.2L337.5 680.1zM347 676.5L352.1 680.2L350.1 686.3L343.8 686.3L341.8 680.2zM351.3 676.6L356.4 680.3L354.5 686.4L348.1 686.4L346.2 680.3zM355.6 676.7L360.8 680.4L358.8 686.4L352.4 686.4L350.5 680.4zM360 676.8L365.1 680.5L363.1 686.5L356.8 686.5L354.8 680.5zM364.3 676.9L369.4 680.6L367.5 686.6L361.1 686.6L359.2 680.6zM368.6 677L373.8 680.7L371.8 686.8L365.5 686.8L363.5 680.7zM373 677.1L378.1 680.8L376.1 686.9L369.8 686.9L367.8 680.8zM377.3 677.2L382.4 681L380.5 687L374.1 687L372.2 681zM381.6 677.3L386.8 681.1L384.8 687.1L378.5 687.1L376.5 681.1zM386 677.5L391.1 681.2L389.1 687.2L382.8 687.2L380.8 681.2zM390.3 677.6L395.4 681.3L393.5 687.4L387.1 687.4L385.2 681.3zM394.6 677.8L399.8 681.5L397.8 687.5L391.5 687.5L389.5 681.5zM399 677.9L404.1 681.6L402.1 687.7L395.8 687.7L393.8 681.6zM403.3 678.1L408.4 681.8L406.5 687.8L400.1 687.8L398.2 681.8zM407.6 678.2L412.8 682L410.8 688L404.5 688L402.5 682zM412 678.4L417.1 682.1L415.1 688.2L408.8 688.2L406.8 682.1zM416.3 678.6L421.4 682.3L419.5 688.4L413.1 688.4L411.2 682.3zM420.6 678.8L425.8 682.5L423.8 688.6L417.5 688.6L415.5 682.5zM425 679L430.1 682.8L428.1 688.8L421.8 688.8L419.8 682.8zM429.3 679.3L434.4 683L432.5 689L426.1 689L424.2 683zM433.6 679.5L438.8 683.2L436.8 689.3L430.5 689.3L428.5 683.2zM438 679.8L443.1 683.5L441.2 689.6L434.8 689.6L432.8 683.5zM442.3 680.1L447.4 683.8L445.5 689.9L439.1 689.9L437.2 683.8zM446.6 680.4L451.8 684.1L449.8 690.2L443.5 690.2L441.5 684.1zM451 680.8L456.1 684.5L454.2 690.5L447.8 690.5L445.8 684.5zM455.3 681.2L460.5 684.9L458.5 691L452.1 691L450.2 684.9zM459.7 681.8L464.8 685.5L462.8 691.5L456.5 691.5L454.5 685.5zM464 682.5L469.1 686.2L467.2 692.2L460.8 692.2L458.9 686.2zM468.3 683.3L473.5 687.1L471.5 693.1L465.1 693.1L463.2 687.1zM472.7 684.4L477.8 688.1L475.8 694.2L469.5 694.2L467.5 688.1zM477 686.2L482.1 690L480.2 696L473.8 696L471.9 690zM481.3 688.9L486.5 692.7L484.5 698.7L478.2 698.7L476.2 692.7zM485.7 692L490.8 695.8L488.8 701.8L482.5 701.8L480.5 695.8z" fill="#008080"/>
<g font-size="22.5">
<path d="M392.5 464.5h6.8v6.8h-6.8z" fill="#000000"/>
<text x="427" y="475.6">673 K</text>
<path d="M392.2 496.4a3.7 3.7 0 1 0 7.4 0a3.7 3.7 0 1 0 -7.4 0z" fill="#00ff00"/>
<text x="427" y="504.1">613 K</text>
<path d="M395.9 519.6L400.9 528.2L390.9 528.2z" fill="#0000ff"/>
<text x="427" y="532.3">553 K</text>
<path d="M395.9 548.3L400.9 553.3L395.9 558.3L390.9 553.3z" fill="#ff00ff"/>
<text x="427" y="561">493 K</text>
<path d="M395.9 587.4L400.9 578.8L390.9 578.8z" fill="#808000"/>
<text x="427" y="590.1">433 K</text>
<path d="M395.9 605.8L397 609L400.5 609.1L397.7 611.2L398.7 614.5L395.9 612.5L393.1 614.5L394.1 611.2L391.3 609.1L394.8 609z" fill="#800080"/>
<text x="427" y="618.3">373 K</text>
<path d="M395.9 634.2L400.3 637.4L398.6 642.5L393.2 642.5L391.5 637.4z" fill="#008080"/>
<text x="427" y="646.5">313 K</text>
</g>
<text x="66.6" y="792.9" text-anchor="end" font-size="22.3">10<tspan dy="-11.3" font-size="12.2">1</tspan></text>
<text x="66.6" y="728.8" text-anchor="end" font-size="22.3">10<tspan dy="-11.3" font-size="12.2">2</tspan></text>
<text x="66.6" y="664.7" text-anchor="end" font-size="22.3">10<tspan dy="-11.3" font-size="12.2">3</tspan></text>
<text x="66.6" y="600.6" text-anchor="end" font-size="22.3">10<tspan dy="-11.3" font-size="12.2">4</tspan></text>
<text x="66.6" y="536.5" text-anchor="end" font-size="22.3">10<tspan dy="-11.3" font-size="12.2">5</tspan></text>
<text x="66.6" y="472.4" text-anchor="end" font-size="22.3">10<tspan dy="-11.3" font-size="12.2">6</tspan></text>
<text x="78.5" y="817.3" text-anchor="middle" font-size="22.5">10<tspan dy="-11.0" font-size="12.2">0</tspan></text>
<text x="139.2" y="817.3" text-anchor="middle" font-size="22.5">10<tspan dy="-11.0" font-size="12.2">1</tspan></text>
<text x="199.9" y="817.3" text-anchor="middle" font-size="22.5">10<tspan dy="-11.0" font-size="12.2">2</tspan></text>
<text x="260.6" y="817.3" text-anchor="middle" font-size="22.5">10<tspan dy="-11.0" font-size="12.2">3</tspan></text>
<text x="321.2" y="817.3" text-anchor="middle" font-size="22.5">10<tspan dy="-11.0" font-size="12.2">4</tspan></text>
<text x="381.9" y="817.3" text-anchor="middle" font-size="22.5">10<tspan dy="-11.0" font-size="12.2">5</tspan></text>
<text x="442.6" y="817.3" text-anchor="middle" font-size="22.5">10<tspan dy="-11.0" font-size="12.2">6</tspan></text>
<text x="503.3" y="817.3" text-anchor="middle" font-size="22.5">10<tspan dy="-11.0" font-size="12.2">7</tspan></text>
<text x="184.0" y="848.5" font-size="27" textLength="198.8" lengthAdjust="spacingAndGlyphs">Frequency (Hz)</text>
<text transform="translate(0.3 453.2) scale(1.13 1)" font-size="29">(b)</text>
<text transform="translate(23.3 612.8) rotate(-90) scale(1.38 1)" font-size="24.5">ε</text>
<text transform="translate(23.3 599.5) rotate(-90)" font-size="27">'</text>
</svg>
</body></html>
